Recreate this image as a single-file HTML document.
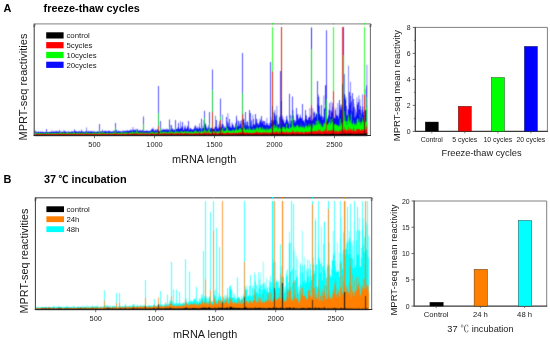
<!DOCTYPE html>
<html lang="en">
<head>
<meta charset="utf-8">
<title>MPRT-seq reactivities</title>
<style>
html,body{margin:0;padding:0;background:#fff;}
body{width:550px;height:345px;overflow:hidden;font-family:"Liberation Sans",Arial,sans-serif;}
svg{display:block;}
</style>
</head>
<body>
<svg width="550" height="345" viewBox="0 0 550 345" font-family="'Liberation Sans', Arial, sans-serif">
<defs><filter id="soft" x="-2%" y="-2%" width="104%" height="104%" color-interpolation-filters="sRGB"><feConvolveMatrix order="3" kernelMatrix="1 4 1 4 16 4 1 4 1" divisor="36" edgeMode="none" preserveAlpha="false"/></filter></defs>
<rect width="550" height="345" fill="#fff"/>
<g id="plotA" filter="url(#soft)">
<path fill="#0a0aff" d="M34.7,136.0V130.1H35.2V131.8H35.7V132.0H36.2V131.8H36.7V132.2H37.2V132.3H37.7V131.7H38.2V131.1H38.7V132.0H39.2V132.3H39.7V132.1H40.2V131.5H40.7V132.0H41.2V132.1H41.7V131.8H42.2V131.5H42.7V132.1H43.2V132.1H43.7V132.3H44.2V132.3H44.7V132.3H45.2V131.9H45.7V132.1H46.2V132.0H46.7V131.9H47.2V132.0H47.7V132.1H48.2V132.3H48.7V132.1H49.2V132.0H49.7V131.5H50.2V131.9H50.7V132.1H51.2V131.7H51.7V130.3H52.2V131.9H52.7V131.8H53.2V130.9H53.7V131.7H54.2V131.7H54.7V131.9H55.2V131.1H55.7V131.6H56.2V131.4H56.7V130.8H57.2V132.1H57.7V131.2H58.2V131.7H58.7V131.3H59.2V129.8H59.7V131.3H60.2V132.2H60.7V131.6H61.2V131.8H61.7V131.7H62.2V131.7H62.7V131.7H63.2V131.9H63.7V130.0H64.2V131.5H64.7V131.4H65.2V131.1H65.7V131.8H66.2V132.2H66.7V132.1H67.2V132.0H67.7V131.4H68.2V131.1H68.7V132.2H69.2V131.8H69.7V132.0H70.2V131.9H70.7V131.9H71.2V131.6H71.7V131.0H72.2V131.4H72.7V131.8H73.2V132.1H73.7V131.5H74.2V129.2H74.7V130.5H75.2V131.3H75.7V131.3H76.2V131.8H76.7V131.3H77.2V131.9H77.7V131.8H78.2V131.6H78.7V130.9H79.2V131.3H79.7V131.5H80.2V131.7H80.7V131.6H81.2V129.4H81.7V131.4H82.2V131.5H82.7V131.6H83.2V131.4H83.7V132.1H84.2V132.1H84.7V131.7H85.2V131.8H85.7V130.9H86.2V127.6H86.7V131.5H87.2V131.8H87.7V131.6H88.2V130.6H88.7V132.0H89.2V131.7H89.7V131.4H90.2V131.0H90.7V131.6H91.2V131.1H91.7V132.0H92.2V131.5H92.7V131.7H93.2V131.7H93.7V130.8H94.2V131.6H94.7V132.0H95.2V131.8H95.7V132.0H96.2V132.0H96.7V131.8H97.2V131.4H97.7V131.1H98.2V131.4H98.7V131.9H99.2V131.5H99.7V131.7H100.2V131.5H100.7V131.2H101.2V131.6H101.7V131.4H102.2V129.6H102.7V131.2H103.2V131.4H103.7V131.5H104.2V131.2H104.7V130.8H105.2V130.7H105.7V131.3H106.2V131.5H106.7V131.6H107.2V131.7H107.7V130.7H108.2V131.0H108.7V130.6H109.2V131.6H109.7V130.9H110.2V131.4H110.7V131.7H111.2V131.7H111.7V131.4H112.2V131.5H112.7V131.8H113.2V131.1H113.7V130.5H114.2V130.8H114.7V131.6H115.2V130.8H115.7V129.4H116.2V129.7H116.7V131.6H117.2V131.6H117.7V131.6H118.2V130.4H118.7V131.3H119.2V131.3H119.7V131.2H120.2V131.3H120.7V131.4H121.2V131.4H121.7V131.8H122.2V131.5H122.7V130.5H123.2V130.7H123.7V131.0H124.2V131.5H124.7V131.3H125.2V130.8H125.7V130.4H126.2V131.0H126.7V131.3H127.2V130.3H127.7V130.4H128.2V130.8H128.7V131.0H129.2V130.6H129.7V131.1H130.2V129.2H130.7V130.4H131.2V130.0H131.7V130.7H132.2V130.2H132.7V126.9H133.2V129.5H133.7V130.6H134.2V129.8H134.7V130.4H135.2V129.3H135.7V130.4H136.2V130.7H136.7V128.7H137.2V129.0H137.7V130.8H138.2V130.7H138.7V130.3H139.2V130.5H139.7V131.1H140.2V129.7H140.7V130.3H141.2V131.2H141.7V130.6H142.2V130.6H142.7V129.7H143.2V131.1H143.7V131.1H144.2V131.1H144.7V130.7H145.2V131.2H145.7V131.0H146.2V130.6H146.7V130.4H147.2V130.5H147.7V131.2H148.2V131.1H148.7V130.9H149.2V131.2H149.7V130.7H150.2V130.4H150.7V130.8H151.2V129.3H151.7V129.4H152.2V129.0H152.7V127.6H153.2V128.7H153.7V130.7H154.2V130.8H154.7V130.6H155.2V129.9H155.7V129.1H156.2V130.9H156.7V129.4H157.2V129.4H157.7V129.2H158.2V131.0H158.7V131.1H159.2V131.1H159.7V131.1H160.2V130.2H160.7V128.4H161.2V130.1H161.7V131.1H162.2V129.8H162.7V128.4H163.2V129.4H163.7V129.9H164.2V129.3H164.7V130.0H165.2V129.6H165.7V129.3H166.2V128.8H166.7V130.6H167.2V128.7H167.7V130.0H168.2V129.8H168.7V129.1H169.2V130.0H169.7V130.4H170.2V129.7H170.7V125.2H171.2V124.9H171.7V129.4H172.2V128.4H172.7V128.7H173.2V130.4H173.7V129.4H174.2V129.4H174.7V129.9H175.2V130.2H175.7V129.7H176.2V129.1H176.7V128.5H177.2V128.9H177.7V127.2H178.2V127.0H178.7V128.2H179.2V129.2H179.7V128.9H180.2V121.2H180.7V128.1H181.2V126.3H181.7V128.4H182.2V126.4H182.7V127.0H183.2V130.1H183.7V129.7H184.2V127.5H184.7V125.0H185.2V126.6H185.7V128.9H186.2V129.2H186.7V127.9H187.2V126.4H187.7V125.8H188.2V129.9H188.7V128.8H189.2V129.9H189.7V127.7H190.2V128.0H190.7V129.3H191.2V128.7H191.7V129.4H192.2V129.4H192.7V130.0H193.2V129.2H193.7V128.4H194.2V126.3H194.7V128.5H195.2V125.4H195.7V125.7H196.2V128.0H196.7V128.4H197.2V127.1H197.7V128.7H198.2V129.0H198.7V126.8H199.2V123.6H199.7V128.1H200.2V127.8H200.7V129.1H201.2V127.9H201.7V129.5H202.2V128.2H202.7V125.8H203.2V127.9H203.7V120.1H204.2V123.6H204.7V122.7H205.2V123.6H205.7V124.9H206.2V127.3H206.7V128.5H207.2V128.9H207.7V127.1H208.2V125.1H208.7V128.0H209.2V128.4H209.7V129.7H210.2V128.0H210.7V128.2H211.2V128.3H211.7V127.6H212.2V126.9H212.7V128.8H213.2V128.9H213.7V128.3H214.2V128.9H214.7V126.8H215.2V115.7H215.7V126.7H216.2V126.5H216.7V129.0H217.2V127.2H217.7V128.8H218.2V128.2H218.7V124.4H219.2V121.0H219.7V126.9H220.2V128.3H220.7V128.5H221.2V126.6H221.7V124.0H222.2V114.7H222.7V124.1H223.2V125.6H223.7V128.9H224.2V127.2H224.7V125.9H225.2V127.7H225.7V127.6H226.2V126.8H226.7V125.9H227.2V121.8H227.7V113.2H228.2V123.3H228.7V126.7H229.2V126.9H229.7V127.0H230.2V125.7H230.7V128.1H231.2V127.5H231.7V122.6H232.2V123.5H232.7V125.1H233.2V125.5H233.7V127.8H234.2V127.4H234.7V127.4H235.2V123.0H235.7V125.6H236.2V121.3H236.7V119.3H237.2V125.3H237.7V127.1H238.2V120.8H238.7V121.0H239.2V126.0H239.7V123.4H240.2V121.0H240.7V124.3H241.2V120.3H241.7V127.6H242.2V124.2H242.7V113.6H243.2V119.4H243.7V118.7H244.2V122.7H244.7V125.2H245.2V124.8H245.7V126.9H246.2V122.1H246.7V124.9H247.2V120.7H247.7V122.0H248.2V126.3H248.7V126.1H249.2V123.6H249.7V123.8H250.2V125.8H250.7V121.7H251.2V120.2H251.7V127.0H252.2V125.5H252.7V114.7H253.2V118.9H253.7V124.0H254.2V124.6H254.7V125.5H255.2V124.5H255.7V122.6H256.2V118.7H256.7V119.2H257.2V122.9H257.7V124.6H258.2V123.4H258.7V125.0H259.2V121.9H259.7V118.6H260.2V119.8H260.7V121.4H261.2V123.8H261.7V123.0H262.2V121.5H262.7V120.4H263.2V121.0H263.7V125.1H264.2V121.2H264.7V121.3H265.2V124.9H265.7V125.6H266.2V122.9H266.7V117.8H267.2V124.4H267.7V123.3H268.2V125.2H268.7V125.9H269.2V123.0H269.7V125.5H270.2V122.8H270.7V116.9H271.2V120.1H271.7V123.5H272.2V124.3H272.7V122.2H273.2V120.2H273.7V111.8H274.2V113.4H274.7V109.8H275.2V116.1H275.7V119.8H276.2V115.1H276.7V105.7H277.2V121.2H277.7V125.2H278.2V124.0H278.7V123.8H279.2V117.4H279.7V116.4H280.2V114.7H280.7V124.4H281.2V119.8H281.7V115.3H282.2V119.3H282.7V116.5H283.2V120.9H283.7V119.3H284.2V123.3H284.7V123.2H285.2V122.3H285.7V119.9H286.2V116.5H286.7V115.6H287.2V119.6H287.7V121.6H288.2V123.8H288.7V121.5H289.2V122.7H289.7V121.6H290.2V114.7H290.7V123.9H291.2V120.4H291.7V115.7H292.2V110.4H292.7V110.0H293.2V115.6H293.7V120.3H294.2V119.7H294.7V123.1H295.2V120.8H295.7V121.2H296.2V120.7H296.7V115.5H297.2V114.7H297.7V113.8H298.2V119.7H298.7V118.3H299.2V118.0H299.7V116.3H300.2V114.4H300.7V117.4H301.2V118.4H301.7V118.2H302.2V121.4H302.7V120.1H303.2V120.9H303.7V120.3H304.2V122.8H304.7V119.6H305.2V116.3H305.7V114.4H306.2V115.5H306.7V119.0H307.2V119.9H307.7V120.2H308.2V117.0H308.7V118.0H309.2V117.1H309.7V107.9H310.2V115.4H310.7V120.0H311.2V118.7H311.7V119.0H312.2V120.2H312.7V108.3H313.2V112.6H313.7V118.2H314.2V111.3H314.7V112.7H315.2V116.9H315.7V114.7H316.2V113.5H316.7V113.8H317.2V115.6H317.7V104.4H318.2V94.8H318.7V97.0H319.2V106.0H319.7V114.1H320.2V116.5H320.7V115.3H321.2V118.0H321.7V116.5H322.2V116.3H322.7V119.9H323.2V117.2H323.7V95.5H324.2V109.1H324.7V107.5H325.2V84.9H325.7V85.4H326.2V108.9H326.7V120.2H327.2V119.1H327.7V117.3H328.2V115.2H328.7V109.8H329.2V103.2H329.7V110.6H330.2V116.9H330.7V101.4H331.2V110.6H331.7V112.6H332.2V103.1H332.7V106.8H333.2V115.0H333.7V108.8H334.2V117.4H334.7V118.4H335.2V110.2H335.7V107.5H336.2V114.6H336.7V115.7H337.2V116.0H337.7V103.0H338.2V118.4H338.7V115.6H339.2V113.4H339.7V107.3H340.2V105.0H340.7V110.0H341.2V104.6H341.7V107.7H342.2V117.1H342.7V114.7H343.2V104.8H343.7V97.4H344.2V74.0H344.7V94.9H345.2V99.6H345.7V97.2H346.2V106.0H346.7V116.1H347.2V114.4H347.7V108.9H348.2V65.8H348.7V110.1H349.2V105.0H349.7V103.2H350.2V81.8H350.7V95.8H351.2V101.3H351.7V111.2H352.2V112.6H352.7V109.5H353.2V107.1H353.7V103.7H354.2V106.9H354.7V117.7H355.2V109.4H355.7V115.8H356.2V112.5H356.7V97.4H357.2V104.7H357.7V102.5H358.2V114.3H358.7V95.3H359.2V109.2H359.7V99.2H360.2V110.8H360.7V118.1H361.2V113.2H361.7V109.8H362.2V94.3H362.7V106.6H363.2V111.4H363.7V114.9H364.2V100.3H364.7V89.0H365.2V110.3H365.7V109.9H366.2V105.3H366.7V64.7H367.2V136.0Z"/>
<path fill="#0a0aff" d="M35.15,136.0V131.0h0.70V136.0ZM46.15,136.0V129.0h0.70V136.0ZM99.15,136.0V124.0h0.70V136.0ZM115.15,136.0V123.0h0.70V136.0ZM143.15,136.0V116.5h0.70V136.0ZM158.15,136.0V86.0h0.70V136.0ZM160.15,136.0V121.0h0.70V136.0ZM169.15,136.0V119.5h0.70V136.0ZM175.15,136.0V120.0h0.70V136.0ZM178.15,136.0V123.0h0.70V136.0ZM182.15,136.0V122.0h0.70V136.0ZM188.15,136.0V121.0h0.70V136.0ZM201.15,136.0V118.7h0.70V136.0ZM204.15,136.0V110.7h0.70V136.0ZM209.15,136.0V112.0h0.70V136.0ZM212.15,136.0V69.5h0.70V136.0ZM216.15,136.0V120.0h0.70V136.0ZM220.15,136.0V98.5h0.70V136.0ZM226.15,136.0V117.0h0.70V136.0ZM229.15,136.0V119.0h0.70V136.0ZM236.15,136.0V115.8h0.70V136.0ZM242.15,136.0V53.1h0.70V136.0ZM245.15,136.0V112.0h0.70V136.0ZM249.15,136.0V110.0h0.70V136.0ZM250.15,136.0V113.0h0.70V136.0ZM255.15,136.0V114.0h0.70V136.0ZM261.15,136.0V116.0h0.70V136.0ZM270.15,136.0V62.0h0.70V136.0ZM280.15,136.0V71.0h0.70V136.0ZM289.15,136.0V93.7h0.70V136.0ZM292.15,136.0V96.4h0.70V136.0ZM296.15,136.0V108.0h0.70V136.0ZM302.15,136.0V104.0h0.70V136.0ZM305.15,136.0V110.0h0.70V136.0ZM311.07,136.0V27.4h0.85V136.0ZM317.15,136.0V81.0h0.70V136.0ZM321.15,136.0V105.0h0.70V136.0ZM326.15,136.0V30.3h0.70V136.0ZM339.15,136.0V100.0h0.70V136.0ZM343.12,136.0V27.0h0.77V136.0ZM344.15,136.0V94.0h0.70V136.0ZM349.15,136.0V92.0h0.70V136.0ZM352.15,136.0V93.0h0.70V136.0ZM353.15,136.0V99.0h0.70V136.0ZM358.15,136.0V102.0h0.70V136.0ZM360.15,136.0V106.0h0.70V136.0ZM366.15,136.0V85.5h0.70V136.0Z"/>
<path fill="#00ff00" d="M34.7,136.0V132.1H35.2V133.0H35.7V133.0H36.2V133.2H36.7V133.3H37.2V133.1H37.7V133.2H38.2V132.8H38.7V133.0H39.2V133.1H39.7V133.0H40.2V132.9H40.7V133.2H41.2V133.3H41.7V133.1H42.2V133.1H42.7V133.3H43.2V133.3H43.7V133.3H44.2V133.4H44.7V133.3H45.2V133.3H45.7V133.2H46.2V133.0H46.7V132.7H47.2V133.3H47.7V133.3H48.2V133.1H48.7V133.1H49.2V133.1H49.7V133.1H50.2V133.2H50.7V133.3H51.2V133.2H51.7V132.8H52.2V133.0H52.7V133.2H53.2V133.0H53.7V133.0H54.2V133.0H54.7V133.1H55.2V133.0H55.7V133.1H56.2V133.2H56.7V132.8H57.2V133.0H57.7V133.0H58.2V133.2H58.7V132.9H59.2V132.0H59.7V132.2H60.2V133.3H60.7V132.6H61.2V133.1H61.7V132.8H62.2V132.7H62.7V132.8H63.2V132.7H63.7V132.8H64.2V132.9H64.7V133.1H65.2V133.3H65.7V132.6H66.2V133.1H66.7V133.0H67.2V133.1H67.7V132.3H68.2V132.2H68.7V132.9H69.2V133.1H69.7V133.1H70.2V133.2H70.7V133.3H71.2V133.1H71.7V132.6H72.2V132.9H72.7V133.1H73.2V133.1H73.7V132.5H74.2V132.1H74.7V132.9H75.2V132.9H75.7V133.1H76.2V133.1H76.7V133.0H77.2V133.2H77.7V133.1H78.2V133.1H78.7V132.6H79.2V132.3H79.7V133.0H80.2V132.8H80.7V133.0H81.2V132.9H81.7V133.0H82.2V132.6H82.7V132.7H83.2V133.0H83.7V133.3H84.2V133.2H84.7V133.2H85.2V133.0H85.7V132.6H86.2V131.8H86.7V132.6H87.2V133.2H87.7V133.0H88.2V133.1H88.7V133.0H89.2V133.1H89.7V132.8H90.2V133.0H90.7V133.1H91.2V133.0H91.7V133.2H92.2V133.2H92.7V133.1H93.2V132.9H93.7V132.2H94.2V132.6H94.7V133.0H95.2V132.8H95.7V133.2H96.2V133.1H96.7V133.2H97.2V133.2H97.7V132.6H98.2V132.5H98.7V133.1H99.2V132.8H99.7V132.9H100.2V132.7H100.7V133.1H101.2V133.0H101.7V132.2H102.2V132.1H102.7V132.5H103.2V132.9H103.7V132.6H104.2V133.0H104.7V132.5H105.2V133.1H105.7V133.1H106.2V132.9H106.7V133.1H107.2V132.8H107.7V132.5H108.2V132.8H108.7V132.6H109.2V132.9H109.7V133.0H110.2V132.9H110.7V132.9H111.2V132.9H111.7V133.0H112.2V132.9H112.7V133.1H113.2V132.6H113.7V130.7H114.2V132.5H114.7V133.0H115.2V132.6H115.7V132.5H116.2V132.9H116.7V133.0H117.2V133.0H117.7V133.0H118.2V132.4H118.7V132.7H119.2V132.8H119.7V133.0H120.2V132.3H120.7V132.7H121.2V132.5H121.7V132.9H122.2V132.5H122.7V132.3H123.2V132.4H123.7V131.9H124.2V132.9H124.7V132.6H125.2V132.4H125.7V132.4H126.2V132.5H126.7V132.5H127.2V132.7H127.7V132.0H128.2V132.5H128.7V132.7H129.2V132.9H129.7V132.8H130.2V132.2H130.7V132.0H131.2V132.8H131.7V131.6H132.2V131.7H132.7V131.8H133.2V132.3H133.7V132.4H134.2V131.8H134.7V132.4H135.2V132.7H135.7V132.0H136.2V129.9H136.7V132.1H137.2V131.0H137.7V132.6H138.2V132.8H138.7V132.0H139.2V132.8H139.7V132.5H140.2V131.8H140.7V132.8H141.2V133.0H141.7V132.5H142.2V132.6H142.7V132.2H143.2V132.8H143.7V132.7H144.2V133.0H144.7V132.6H145.2V132.8H145.7V133.0H146.2V132.4H146.7V132.6H147.2V132.5H147.7V132.4H148.2V132.9H148.7V132.9H149.2V132.5H149.7V132.5H150.2V132.2H150.7V132.3H151.2V132.2H151.7V131.2H152.2V131.7H152.7V131.8H153.2V132.4H153.7V132.5H154.2V132.8H154.7V132.7H155.2V131.4H155.7V132.3H156.2V132.6H156.7V132.4H157.2V131.5H157.7V132.1H158.2V132.8H158.7V132.8H159.2V132.9H159.7V133.0H160.2V132.6H160.7V131.2H161.2V132.3H161.7V132.6H162.2V132.1H162.7V131.4H163.2V132.0H163.7V131.4H164.2V132.1H164.7V132.2H165.2V131.4H165.7V131.6H166.2V132.3H166.7V132.3H167.2V132.2H167.7V132.5H168.2V131.8H168.7V132.3H169.2V132.4H169.7V132.6H170.2V132.1H170.7V130.7H171.2V130.7H171.7V132.2H172.2V131.4H172.7V132.3H173.2V132.5H173.7V131.7H174.2V132.2H174.7V132.2H175.2V132.1H175.7V132.3H176.2V132.0H176.7V131.1H177.2V131.0H177.7V132.3H178.2V131.4H178.7V132.1H179.2V132.5H179.7V132.2H180.2V131.2H180.7V130.5H181.2V131.5H181.7V131.3H182.2V131.5H182.7V132.0H183.2V131.9H183.7V131.4H184.2V131.3H184.7V130.9H185.2V131.2H185.7V132.1H186.2V132.1H186.7V131.3H187.2V131.0H187.7V131.1H188.2V131.2H188.7V132.2H189.2V132.1H189.7V132.0H190.2V131.6H190.7V131.9H191.2V131.0H191.7V132.0H192.2V132.0H192.7V132.3H193.2V132.1H193.7V131.6H194.2V131.2H194.7V130.6H195.2V130.8H195.7V128.7H196.2V131.3H196.7V131.7H197.2V132.0H197.7V131.7H198.2V131.9H198.7V130.8H199.2V130.9H199.7V130.4H200.2V131.9H200.7V132.0H201.2V131.7H201.7V132.1H202.2V131.6H202.7V131.3H203.2V131.6H203.7V130.0H204.2V129.5H204.7V130.9H205.2V130.6H205.7V129.8H206.2V130.9H206.7V131.5H207.2V132.2H207.7V130.0H208.2V128.7H208.7V130.5H209.2V131.3H209.7V132.3H210.2V132.1H210.7V131.8H211.2V131.5H211.7V131.3H212.2V131.4H212.7V131.4H213.2V132.0H213.7V130.9H214.2V131.7H214.7V130.6H215.2V129.0H215.7V130.7H216.2V131.7H216.7V131.9H217.2V131.3H217.7V131.7H218.2V131.4H218.7V130.8H219.2V130.6H219.7V131.4H220.2V131.6H220.7V132.0H221.2V130.5H221.7V129.5H222.2V127.9H222.7V129.1H223.2V130.9H223.7V131.3H224.2V130.4H224.7V130.9H225.2V130.7H225.7V130.2H226.2V130.7H226.7V127.2H227.2V128.2H227.7V128.8H228.2V130.7H228.7V130.2H229.2V129.9H229.7V131.2H230.2V130.6H230.7V131.2H231.2V130.8H231.7V130.9H232.2V130.0H232.7V129.0H233.2V129.7H233.7V130.7H234.2V131.5H234.7V129.4H235.2V130.1H235.7V129.0H236.2V130.1H236.7V128.9H237.2V130.8H237.7V129.9H238.2V129.6H238.7V129.7H239.2V127.9H239.7V128.7H240.2V128.4H240.7V127.8H241.2V130.0H241.7V129.5H242.2V125.7H242.7V124.8H243.2V128.6H243.7V124.8H244.2V127.8H244.7V129.2H245.2V129.9H245.7V130.0H246.2V128.5H246.7V130.0H247.2V129.1H247.7V127.5H248.2V130.3H248.7V128.4H249.2V129.7H249.7V129.8H250.2V129.3H250.7V128.8H251.2V129.5H251.7V130.6H252.2V130.0H252.7V127.5H253.2V128.4H253.7V129.9H254.2V128.6H254.7V129.6H255.2V130.0H255.7V128.3H256.2V128.5H256.7V125.6H257.2V128.1H257.7V127.2H258.2V128.3H258.7V129.9H259.2V127.6H259.7V127.1H260.2V127.2H260.7V127.5H261.2V129.7H261.7V129.4H262.2V126.7H262.7V128.1H263.2V129.9H263.7V128.2H264.2V129.6H264.7V128.2H265.2V129.9H265.7V130.2H266.2V128.9H266.7V126.9H267.2V128.6H267.7V130.4H268.2V129.0H268.7V129.6H269.2V128.8H269.7V128.3H270.2V128.6H270.7V128.7H271.2V125.9H271.7V128.4H272.2V128.7H272.7V129.5H273.2V126.1H273.7V124.2H274.2V124.6H274.7V128.1H275.2V126.1H275.7V128.0H276.2V126.1H276.7V116.0H277.2V126.7H277.7V129.4H278.2V127.8H278.7V128.2H279.2V126.9H279.7V124.4H280.2V128.9H280.7V128.3H281.2V125.4H281.7V125.5H282.2V128.0H282.7V127.0H283.2V127.1H283.7V126.8H284.2V127.0H284.7V129.2H285.2V129.0H285.7V127.6H286.2V123.9H286.7V123.7H287.2V128.1H287.7V128.1H288.2V128.9H288.7V128.2H289.2V128.1H289.7V127.9H290.2V126.9H290.7V128.5H291.2V127.1H291.7V123.9H292.2V118.3H292.7V113.5H293.2V125.5H293.7V128.2H294.2V126.0H294.7V127.2H295.2V126.5H295.7V127.1H296.2V125.8H296.7V124.3H297.2V124.9H297.7V125.3H298.2V126.2H298.7V127.3H299.2V127.5H299.7V126.1H300.2V127.2H300.7V123.2H301.2V126.4H301.7V126.5H302.2V126.8H302.7V127.7H303.2V125.2H303.7V127.3H304.2V128.3H304.7V126.8H305.2V125.8H305.7V122.8H306.2V126.3H306.7V125.8H307.2V127.7H307.7V126.2H308.2V125.6H308.7V123.5H309.2V127.1H309.7V124.5H310.2V124.6H310.7V126.6H311.2V125.6H311.7V125.2H312.2V127.7H312.7V123.7H313.2V123.3H313.7V124.7H314.2V126.0H314.7V123.9H315.2V124.9H315.7V121.3H316.2V120.4H316.7V125.3H317.2V125.1H317.7V123.5H318.2V120.4H318.7V121.0H319.2V123.9H319.7V124.0H320.2V122.6H320.7V124.9H321.2V126.7H321.7V124.6H322.2V127.0H322.7V127.1H323.2V124.6H323.7V122.2H324.2V123.6H324.7V122.9H325.2V105.1H325.7V110.7H326.2V121.8H326.7V125.2H327.2V123.9H327.7V125.0H328.2V123.3H328.7V122.2H329.2V121.9H329.7V117.7H330.2V124.2H330.7V119.5H331.2V123.1H331.7V118.9H332.2V122.0H332.7V117.3H333.2V124.1H333.7V123.5H334.2V124.4H334.7V124.2H335.2V124.3H335.7V123.4H336.2V125.1H336.7V125.3H337.2V125.1H337.7V125.3H338.2V126.2H338.7V126.5H339.2V124.7H339.7V119.4H340.2V118.3H340.7V125.8H341.2V123.1H341.7V122.7H342.2V124.6H342.7V124.8H343.2V121.5H343.7V121.1H344.2V111.3H344.7V116.6H345.2V121.2H345.7V120.5H346.2V121.3H346.7V124.9H347.2V121.3H347.7V116.3H348.2V113.9H348.7V117.6H349.2V120.6H349.7V122.7H350.2V119.9H350.7V114.4H351.2V112.4H351.7V123.5H352.2V124.8H352.7V123.3H353.2V120.5H353.7V122.4H354.2V123.9H354.7V125.4H355.2V124.0H355.7V122.8H356.2V124.4H356.7V119.5H357.2V117.9H357.7V119.1H358.2V122.2H358.7V119.3H359.2V122.0H359.7V113.6H360.2V122.0H360.7V124.9H361.2V122.5H361.7V121.4H362.2V119.3H362.7V116.8H363.2V121.2H363.7V123.3H364.2V121.8H364.7V122.1H365.2V122.0H365.7V121.4H366.2V96.9H366.7V107.6H367.2V136.0Z"/>
<path fill="#00ff00" d="M46.15,136.0V132.5h0.70V136.0ZM99.15,136.0V130.0h0.70V136.0ZM115.15,136.0V128.0h0.70V136.0ZM143.15,136.0V124.0h0.70V136.0ZM158.15,136.0V113.0h0.70V136.0ZM160.15,136.0V128.0h0.70V136.0ZM169.15,136.0V127.0h0.70V136.0ZM175.15,136.0V128.0h0.70V136.0ZM201.15,136.0V127.0h0.70V136.0ZM204.15,136.0V118.0h0.70V136.0ZM209.15,136.0V124.0h0.70V136.0ZM212.15,136.0V89.8h0.70V136.0ZM220.15,136.0V116.0h0.70V136.0ZM226.15,136.0V126.0h0.70V136.0ZM236.15,136.0V125.0h0.70V136.0ZM242.15,136.0V92.7h0.70V136.0ZM249.15,136.0V122.0h0.70V136.0ZM272.07,136.0V27.0h0.85V136.0ZM281.07,136.0V27.0h0.85V136.0ZM289.15,136.0V118.0h0.70V136.0ZM311.07,136.0V49.0h0.85V136.0ZM317.15,136.0V112.0h0.70V136.0ZM326.15,136.0V99.0h0.70V136.0ZM333.07,136.0V27.0h0.85V136.0ZM343.12,136.0V55.0h0.77V136.0ZM364.07,136.0V27.0h0.85V136.0Z"/>
<path fill="#ff0000" d="M34.7,136.0V133.9H35.2V134.0H35.7V134.0H36.2V134.1H36.7V134.1H37.2V134.0H37.7V133.9H38.2V133.8H38.7V134.0H39.2V134.0H39.7V133.9H40.2V133.9H40.7V134.0H41.2V134.0H41.7V133.9H42.2V134.0H42.7V134.0H43.2V134.0H43.7V134.1H44.2V134.1H44.7V134.1H45.2V134.0H45.7V134.0H46.2V133.9H46.7V134.0H47.2V134.0H47.7V134.0H48.2V133.9H48.7V133.9H49.2V133.9H49.7V134.1H50.2V134.0H50.7V134.0H51.2V134.0H51.7V133.9H52.2V133.9H52.7V133.8H53.2V133.9H53.7V134.0H54.2V133.9H54.7V134.0H55.2V134.0H55.7V134.0H56.2V133.9H56.7V133.8H57.2V133.7H57.7V133.8H58.2V133.9H58.7V133.8H59.2V133.6H59.7V133.8H60.2V134.0H60.7V134.0H61.2V133.9H61.7V133.8H62.2V133.8H62.7V133.8H63.2V133.7H63.7V133.6H64.2V133.8H64.7V133.9H65.2V133.8H65.7V134.0H66.2V134.0H66.7V134.1H67.2V133.9H67.7V133.7H68.2V133.5H68.7V134.0H69.2V134.0H69.7V133.9H70.2V134.0H70.7V134.0H71.2V133.9H71.7V133.8H72.2V133.7H72.7V133.9H73.2V134.0H73.7V133.9H74.2V133.8H74.7V133.7H75.2V134.0H75.7V133.7H76.2V133.9H76.7V134.0H77.2V134.1H77.7V133.9H78.2V133.7H78.7V133.8H79.2V133.8H79.7V133.7H80.2V133.8H80.7V133.6H81.2V133.8H81.7V133.8H82.2V133.9H82.7V133.8H83.2V134.0H83.7V134.1H84.2V134.1H84.7V134.0H85.2V133.9H85.7V133.7H86.2V133.3H86.7V133.7H87.2V133.9H87.7V133.9H88.2V133.7H88.7V133.9H89.2V133.9H89.7V133.8H90.2V133.8H90.7V134.0H91.2V133.8H91.7V134.0H92.2V133.9H92.7V133.8H93.2V133.9H93.7V133.8H94.2V133.8H94.7V133.9H95.2V133.9H95.7V134.0H96.2V134.0H96.7V134.0H97.2V133.9H97.7V134.0H98.2V133.7H98.7V133.9H99.2V133.9H99.7V133.8H100.2V133.7H100.7V134.0H101.2V133.9H101.7V133.7H102.2V133.2H102.7V133.4H103.2V133.9H103.7V133.9H104.2V133.9H104.7V133.6H105.2V133.8H105.7V133.8H106.2V134.0H106.7V133.9H107.2V133.9H107.7V133.6H108.2V133.5H108.7V133.5H109.2V133.9H109.7V134.0H110.2V133.9H110.7V133.9H111.2V133.8H111.7V134.0H112.2V133.9H112.7V134.0H113.2V133.7H113.7V133.3H114.2V133.6H114.7V133.9H115.2V133.6H115.7V133.4H116.2V133.6H116.7V134.0H117.2V133.9H117.7V133.9H118.2V133.7H118.7V133.8H119.2V133.9H119.7V133.9H120.2V133.8H120.7V133.8H121.2V134.0H121.7V133.9H122.2V133.8H122.7V133.5H123.2V133.8H123.7V133.8H124.2V133.9H124.7V133.9H125.2V133.8H125.7V133.7H126.2V133.9H126.7V133.8H127.2V133.8H127.7V133.4H128.2V133.1H128.7V133.6H129.2V133.9H129.7V133.9H130.2V133.7H130.7V133.7H131.2V133.6H131.7V133.7H132.2V133.5H132.7V133.5H133.2V133.5H133.7V133.3H134.2V133.5H134.7V133.7H135.2V133.6H135.7V133.3H136.2V133.5H136.7V133.2H137.2V133.4H137.7V133.9H138.2V133.8H138.7V133.2H139.2V133.8H139.7V133.6H140.2V133.5H140.7V133.9H141.2V133.9H141.7V133.7H142.2V133.8H142.7V133.5H143.2V133.9H143.7V133.8H144.2V133.9H144.7V133.8H145.2V133.9H145.7V133.8H146.2V133.6H146.7V133.6H147.2V133.5H147.7V133.9H148.2V133.7H148.7V133.7H149.2V133.7H149.7V133.6H150.2V133.8H150.7V133.6H151.2V133.4H151.7V133.0H152.2V133.3H152.7V133.6H153.2V133.6H153.7V133.9H154.2V133.9H154.7V133.7H155.2V133.6H155.7V133.7H156.2V133.4H156.7V133.7H157.2V133.5H157.7V133.7H158.2V133.8H158.7V133.7H159.2V133.9H159.7V134.0H160.2V133.7H160.7V132.9H161.2V133.6H161.7V133.7H162.2V133.5H162.7V133.3H163.2V133.3H163.7V133.5H164.2V133.3H164.7V133.6H165.2V133.0H165.7V133.4H166.2V133.6H166.7V133.6H167.2V133.5H167.7V133.6H168.2V133.5H168.7V133.7H169.2V133.4H169.7V133.3H170.2V133.4H170.7V132.2H171.2V132.9H171.7V133.4H172.2V133.2H172.7V133.6H173.2V133.8H173.7V133.5H174.2V133.5H174.7V133.6H175.2V133.6H175.7V133.6H176.2V133.2H176.7V133.1H177.2V133.3H177.7V133.2H178.2V132.9H178.7V133.5H179.2V133.7H179.7V133.4H180.2V132.6H180.7V132.4H181.2V133.3H181.7V133.2H182.2V133.4H182.7V133.4H183.2V133.5H183.7V133.5H184.2V133.1H184.7V132.7H185.2V133.3H185.7V133.2H186.2V133.5H186.7V133.4H187.2V132.4H187.7V133.2H188.2V133.2H188.7V133.6H189.2V133.7H189.7V133.4H190.2V133.3H190.7V133.4H191.2V133.5H191.7V133.4H192.2V133.5H192.7V133.8H193.2V133.5H193.7V133.6H194.2V133.1H194.7V133.1H195.2V132.9H195.7V132.7H196.2V133.3H196.7V133.5H197.2V133.4H197.7V133.5H198.2V133.6H198.7V132.5H199.2V132.1H199.7V132.8H200.2V133.5H200.7V133.5H201.2V133.4H201.7V133.5H202.2V133.3H202.7V132.8H203.2V133.3H203.7V132.9H204.2V131.6H204.7V133.0H205.2V132.8H205.7V131.3H206.2V132.7H206.7V133.4H207.2V133.6H207.7V132.4H208.2V132.3H208.7V132.5H209.2V133.4H209.7V133.6H210.2V133.5H210.7V133.1H211.2V133.2H211.7V133.2H212.2V133.3H212.7V133.5H213.2V133.3H213.7V133.4H214.2V133.0H214.7V132.3H215.2V130.0H215.7V132.3H216.2V133.3H216.7V133.5H217.2V133.6H217.7V133.6H218.2V133.4H218.7V132.5H219.2V132.6H219.7V133.1H220.2V133.4H220.7V133.3H221.2V133.0H221.7V132.7H222.2V131.6H222.7V132.9H223.2V133.1H223.7V133.2H224.2V133.1H224.7V133.4H225.2V133.3H225.7V133.2H226.2V133.1H226.7V132.5H227.2V132.0H227.7V132.5H228.2V132.7H228.7V132.8H229.2V133.1H229.7V133.2H230.2V133.3H230.7V133.3H231.2V133.3H231.7V132.7H232.2V132.9H232.7V133.0H233.2V132.3H233.7V133.3H234.2V133.1H234.7V132.8H235.2V133.1H235.7V133.0H236.2V132.6H236.7V132.9H237.2V133.3H237.7V132.9H238.2V132.6H238.7V132.6H239.2V133.0H239.7V132.0H240.2V132.3H240.7V132.0H241.2V132.6H241.7V133.0H242.2V132.4H242.7V131.2H243.2V131.6H243.7V131.7H244.2V132.7H244.7V133.0H245.2V133.1H245.7V132.2H246.2V132.5H246.7V132.6H247.2V132.1H247.7V133.0H248.2V133.0H248.7V133.1H249.2V132.6H249.7V132.8H250.2V133.0H250.7V133.0H251.2V132.9H251.7V133.1H252.2V133.1H252.7V132.9H253.2V132.4H253.7V132.7H254.2V132.4H254.7V132.8H255.2V132.7H255.7V131.9H256.2V131.9H256.7V130.8H257.2V132.1H257.7V132.5H258.2V132.6H258.7V132.7H259.2V132.3H259.7V132.3H260.2V132.5H260.7V132.9H261.2V132.9H261.7V132.9H262.2V132.3H262.7V132.0H263.2V132.8H263.7V132.6H264.2V132.6H264.7V132.3H265.2V132.5H265.7V132.7H266.2V132.6H266.7V131.5H267.2V132.6H267.7V132.9H268.2V132.7H268.7V132.8H269.2V132.5H269.7V132.8H270.2V132.7H270.7V132.3H271.2V132.7H271.7V132.5H272.2V132.6H272.7V132.9H273.2V132.2H273.7V131.8H274.2V132.1H274.7V132.4H275.2V132.2H275.7V132.3H276.2V131.3H276.7V130.7H277.2V132.1H277.7V132.8H278.2V132.7H278.7V132.6H279.2V131.3H279.7V131.5H280.2V132.4H280.7V132.7H281.2V132.0H281.7V130.9H282.2V132.0H282.7V132.1H283.2V131.9H283.7V131.7H284.2V131.9H284.7V132.5H285.2V132.9H285.7V131.8H286.2V131.0H286.7V131.8H287.2V132.2H287.7V132.7H288.2V132.4H288.7V132.3H289.2V132.4H289.7V131.9H290.2V132.3H290.7V132.0H291.2V132.4H291.7V132.3H292.2V130.4H292.7V130.2H293.2V131.7H293.7V132.6H294.2V132.1H294.7V131.9H295.2V132.6H295.7V131.9H296.2V132.3H296.7V130.6H297.2V131.7H297.7V131.9H298.2V131.7H298.7V132.2H299.2V132.4H299.7V132.0H300.2V132.2H300.7V132.2H301.2V131.2H301.7V132.3H302.2V132.2H302.7V132.2H303.2V132.4H303.7V132.4H304.2V132.4H304.7V132.0H305.2V131.6H305.7V131.5H306.2V132.1H306.7V131.9H307.2V132.0H307.7V132.2H308.2V131.8H308.7V132.0H309.2V131.7H309.7V131.4H310.2V131.5H310.7V132.0H311.2V131.6H311.7V131.7H312.2V131.6H312.7V131.4H313.2V131.5H313.7V130.8H314.2V131.0H314.7V131.8H315.2V131.1H315.7V131.1H316.2V131.1H316.7V131.3H317.2V131.9H317.7V131.1H318.2V130.1H318.7V129.1H319.2V130.4H319.7V131.6H320.2V129.9H320.7V131.4H321.2V131.8H321.7V131.1H322.2V131.8H322.7V131.5H323.2V131.2H323.7V130.8H324.2V130.3H324.7V130.7H325.2V128.9H325.7V130.8H326.2V130.2H326.7V131.2H327.2V131.6H327.7V131.2H328.2V130.0H328.7V130.7H329.2V130.2H329.7V130.7H330.2V131.2H330.7V130.6H331.2V130.1H331.7V130.7H332.2V129.6H332.7V130.5H333.2V131.2H333.7V130.7H334.2V131.6H334.7V131.8H335.2V131.1H335.7V129.8H336.2V131.3H336.7V131.4H337.2V131.2H337.7V131.2H338.2V131.8H338.7V131.8H339.2V130.9H339.7V129.5H340.2V130.6H340.7V131.3H341.2V130.2H341.7V129.8H342.2V131.2H342.7V131.1H343.2V129.9H343.7V129.2H344.2V127.1H344.7V129.7H345.2V129.9H345.7V130.2H346.2V130.5H346.7V130.6H347.2V130.4H347.7V129.2H348.2V127.1H348.7V130.4H349.2V130.6H349.7V129.7H350.2V128.8H350.7V128.7H351.2V129.8H351.7V130.9H352.2V130.7H352.7V130.2H353.2V127.6H353.7V128.9H354.2V131.1H354.7V130.7H355.2V130.7H355.7V131.2H356.2V129.6H356.7V129.1H357.2V128.9H357.7V129.5H358.2V129.0H358.7V129.2H359.2V128.9H359.7V129.9H360.2V130.9H360.7V130.3H361.2V129.6H361.7V130.1H362.2V129.5H362.7V129.8H363.2V130.8H363.7V129.6H364.2V129.7H364.7V129.1H365.2V130.1H365.7V129.5H366.2V126.9H366.7V124.4H367.2V136.0Z"/>
<path fill="#ff0000" d="M143.15,136.0V131.0h0.70V136.0ZM158.15,136.0V126.0h0.70V136.0ZM212.15,136.0V112.0h0.70V136.0ZM220.15,136.0V120.0h0.70V136.0ZM242.15,136.0V114.5h0.70V136.0ZM272.07,136.0V71.6h0.85V136.0ZM281.07,136.0V27.0h0.85V136.0ZM311.07,136.0V105.0h0.85V136.0ZM326.15,136.0V122.0h0.70V136.0ZM333.07,136.0V91.3h0.85V136.0ZM342.12,136.0V27.0h0.77V136.0ZM364.07,136.0V95.0h0.85V136.0Z"/>
<path fill="#000000" d="M34.7,136.0V134.9H35.2V134.9H35.7V134.9H36.2V135.0H36.7V135.0H37.2V134.9H37.7V134.9H38.2V134.8H38.7V134.9H39.2V134.9H39.7V134.9H40.2V134.9H40.7V134.9H41.2V135.0H41.7V134.9H42.2V134.8H42.7V134.9H43.2V135.0H43.7V135.0H44.2V135.0H44.7V135.0H45.2V135.0H45.7V135.0H46.2V134.9H46.7V134.9H47.2V135.0H47.7V135.0H48.2V135.0H48.7V134.9H49.2V134.9H49.7V135.0H50.2V135.0H50.7V135.0H51.2V134.9H51.7V134.9H52.2V134.9H52.7V134.9H53.2V134.9H53.7V135.0H54.2V134.9H54.7V135.0H55.2V134.9H55.7V134.9H56.2V134.9H56.7V134.9H57.2V134.9H57.7V134.9H58.2V134.9H58.7V134.9H59.2V134.8H59.7V134.8H60.2V135.0H60.7V134.9H61.2V134.9H61.7V134.9H62.2V134.9H62.7V134.9H63.2V134.9H63.7V134.9H64.2V134.9H64.7V134.9H65.2V135.0H65.7V134.9H66.2V135.0H66.7V135.0H67.2V134.9H67.7V134.8H68.2V134.9H68.7V134.9H69.2V134.9H69.7V134.9H70.2V135.0H70.7V135.0H71.2V134.9H71.7V134.8H72.2V134.9H72.7V135.0H73.2V135.0H73.7V134.9H74.2V134.8H74.7V134.9H75.2V134.9H75.7V134.9H76.2V134.9H76.7V135.0H77.2V135.0H77.7V135.0H78.2V134.9H78.7V134.9H79.2V134.9H79.7V134.9H80.2V134.9H80.7V134.9H81.2V134.9H81.7V134.9H82.2V134.9H82.7V135.0H83.2V135.0H83.7V135.0H84.2V135.0H84.7V135.0H85.2V135.0H85.7V134.9H86.2V134.7H86.7V134.9H87.2V135.0H87.7V134.9H88.2V134.9H88.7V134.9H89.2V134.9H89.7V134.8H90.2V134.9H90.7V134.9H91.2V135.0H91.7V134.9H92.2V135.0H92.7V134.9H93.2V134.9H93.7V134.9H94.2V134.9H94.7V134.9H95.2V134.9H95.7V135.0H96.2V135.0H96.7V135.0H97.2V134.9H97.7V134.9H98.2V134.9H98.7V134.9H99.2V134.9H99.7V134.9H100.2V134.9H100.7V134.9H101.2V134.9H101.7V134.9H102.2V134.8H102.7V134.9H103.2V134.9H103.7V135.0H104.2V134.9H104.7V134.8H105.2V134.9H105.7V134.9H106.2V135.0H106.7V134.9H107.2V134.9H107.7V134.9H108.2V134.8H108.7V134.8H109.2V134.9H109.7V135.0H110.2V135.0H110.7V135.0H111.2V134.9H111.7V134.9H112.2V134.9H112.7V135.0H113.2V134.9H113.7V134.8H114.2V134.9H114.7V135.0H115.2V134.7H115.7V134.7H116.2V134.9H116.7V134.9H117.2V135.0H117.7V135.0H118.2V134.9H118.7V134.9H119.2V134.9H119.7V134.9H120.2V134.9H120.7V134.9H121.2V134.9H121.7V134.9H122.2V134.9H122.7V134.7H123.2V134.9H123.7V134.8H124.2V134.9H124.7V134.9H125.2V134.9H125.7V134.9H126.2V134.9H126.7V134.9H127.2V134.8H127.7V134.7H128.2V134.8H128.7V134.9H129.2V134.9H129.7V134.9H130.2V134.8H130.7V134.8H131.2V134.9H131.7V134.8H132.2V134.8H132.7V134.8H133.2V134.7H133.7V134.8H134.2V134.7H134.7V134.8H135.2V134.8H135.7V134.8H136.2V134.7H136.7V134.7H137.2V134.7H137.7V134.9H138.2V134.9H138.7V134.9H139.2V134.9H139.7V134.9H140.2V134.8H140.7V134.9H141.2V134.9H141.7V134.8H142.2V134.8H142.7V134.9H143.2V134.9H143.7V134.9H144.2V134.9H144.7V134.9H145.2V134.9H145.7V134.9H146.2V134.8H146.7V134.8H147.2V134.8H147.7V134.9H148.2V134.9H148.7V134.9H149.2V134.9H149.7V134.9H150.2V134.8H150.7V134.9H151.2V134.8H151.7V134.5H152.2V134.8H152.7V134.7H153.2V134.9H153.7V134.8H154.2V134.9H154.7V134.8H155.2V134.8H155.7V134.8H156.2V134.9H156.7V134.8H157.2V134.8H157.7V134.8H158.2V134.9H158.7V134.9H159.2V134.9H159.7V134.9H160.2V134.9H160.7V134.6H161.2V134.8H161.7V134.9H162.2V134.9H162.7V134.8H163.2V134.8H163.7V134.8H164.2V134.8H164.7V134.8H165.2V134.8H165.7V134.7H166.2V134.8H166.7V134.8H167.2V134.8H167.7V134.8H168.2V134.8H168.7V134.8H169.2V134.8H169.7V134.8H170.2V134.8H170.7V134.5H171.2V134.6H171.7V134.7H172.2V134.8H172.7V134.7H173.2V134.9H173.7V134.8H174.2V134.8H174.7V134.8H175.2V134.9H175.7V134.9H176.2V134.7H176.7V134.7H177.2V134.8H177.7V134.8H178.2V134.7H178.7V134.8H179.2V134.9H179.7V134.8H180.2V134.7H180.7V134.6H181.2V134.7H181.7V134.7H182.2V134.8H182.7V134.8H183.2V134.9H183.7V134.8H184.2V134.7H184.7V134.6H185.2V134.6H185.7V134.8H186.2V134.8H186.7V134.8H187.2V134.6H187.7V134.6H188.2V134.7H188.7V134.9H189.2V134.8H189.7V134.8H190.2V134.7H190.7V134.8H191.2V134.8H191.7V134.8H192.2V134.7H192.7V134.9H193.2V134.9H193.7V134.8H194.2V134.7H194.7V134.8H195.2V134.8H195.7V134.7H196.2V134.7H196.7V134.8H197.2V134.8H197.7V134.8H198.2V134.8H198.7V134.8H199.2V134.5H199.7V134.7H200.2V134.8H200.7V134.8H201.2V134.8H201.7V134.8H202.2V134.8H202.7V134.7H203.2V134.6H203.7V134.7H204.2V134.6H204.7V134.6H205.2V134.6H205.7V134.4H206.2V134.7H206.7V134.8H207.2V134.9H207.7V134.8H208.2V134.6H208.7V134.6H209.2V134.8H209.7V134.8H210.2V134.8H210.7V134.7H211.2V134.8H211.7V134.7H212.2V134.8H212.7V134.8H213.2V134.7H213.7V134.8H214.2V134.8H214.7V134.6H215.2V134.5H215.7V134.6H216.2V134.7H216.7V134.9H217.2V134.7H217.7V134.8H218.2V134.8H218.7V134.6H219.2V134.6H219.7V134.7H220.2V134.8H220.7V134.8H221.2V134.7H221.7V134.5H222.2V134.2H222.7V134.5H223.2V134.8H223.7V134.8H224.2V134.7H224.7V134.7H225.2V134.8H225.7V134.7H226.2V134.7H226.7V134.4H227.2V134.5H227.7V134.6H228.2V134.6H228.7V134.7H229.2V134.6H229.7V134.7H230.2V134.7H230.7V134.8H231.2V134.7H231.7V134.6H232.2V134.5H232.7V134.7H233.2V134.5H233.7V134.7H234.2V134.7H234.7V134.7H235.2V134.5H235.7V134.6H236.2V134.3H236.7V134.5H237.2V134.7H237.7V134.6H238.2V134.5H238.7V134.5H239.2V134.6H239.7V134.4H240.2V134.4H240.7V134.2H241.2V134.5H241.7V134.7H242.2V134.5H242.7V133.9H243.2V134.3H243.7V134.4H244.2V134.6H244.7V134.6H245.2V134.7H245.7V134.5H246.2V134.5H246.7V134.4H247.2V134.4H247.7V134.2H248.2V134.6H248.7V134.6H249.2V134.6H249.7V134.7H250.2V134.6H250.7V134.6H251.2V134.5H251.7V134.7H252.2V134.6H252.7V134.5H253.2V134.4H253.7V134.6H254.2V134.6H254.7V134.6H255.2V134.5H255.7V134.4H256.2V134.5H256.7V134.2H257.2V134.4H257.7V134.4H258.2V134.5H258.7V134.5H259.2V134.4H259.7V134.5H260.2V134.5H260.7V134.4H261.2V134.5H261.7V134.5H262.2V134.4H262.7V134.3H263.2V134.5H263.7V134.5H264.2V134.5H264.7V134.3H265.2V134.5H265.7V134.6H266.2V134.5H266.7V134.3H267.2V134.5H267.7V134.5H268.2V134.5H268.7V134.5H269.2V134.4H269.7V134.5H270.2V134.4H270.7V134.3H271.2V134.3H271.7V134.4H272.2V134.5H272.7V134.5H273.2V134.4H273.7V134.2H274.2V134.3H274.7V134.4H275.2V134.3H275.7V134.4H276.2V134.1H276.7V133.8H277.2V134.3H277.7V134.5H278.2V134.5H278.7V134.4H279.2V134.2H279.7V134.2H280.2V134.4H280.7V134.5H281.2V134.4H281.7V134.2H282.2V134.3H282.7V134.3H283.2V134.2H283.7V134.2H284.2V134.3H284.7V134.4H285.2V134.5H285.7V134.4H286.2V134.1H286.7V134.1H287.2V134.4H287.7V134.5H288.2V134.5H288.7V134.4H289.2V134.2H289.7V134.4H290.2V134.4H290.7V134.4H291.2V134.4H291.7V134.2H292.2V133.9H292.7V133.4H293.2V134.1H293.7V134.4H294.2V134.4H294.7V134.5H295.2V134.4H295.7V134.4H296.2V134.3H296.7V134.2H297.2V134.1H297.7V134.2H298.2V134.3H298.7V134.4H299.2V134.4H299.7V134.3H300.2V134.3H300.7V134.3H301.2V134.3H301.7V134.3H302.2V134.3H302.7V134.4H303.2V134.4H303.7V134.4H304.2V134.4H304.7V134.3H305.2V134.2H305.7V134.1H306.2V134.2H306.7V134.4H307.2V134.3H307.7V134.3H308.2V134.3H308.7V134.2H309.2V134.3H309.7V134.1H310.2V134.1H310.7V134.2H311.2V134.1H311.7V134.1H312.2V134.2H312.7V134.1H313.2V133.9H313.7V134.1H314.2V134.1H314.7V134.3H315.2V134.2H315.7V134.1H316.2V134.0H316.7V134.1H317.2V134.3H317.7V134.0H318.2V133.7H318.7V133.8H319.2V134.1H319.7V134.1H320.2V134.0H320.7V134.2H321.2V134.3H321.7V134.2H322.2V134.2H322.7V134.3H323.2V134.1H323.7V134.0H324.2V134.1H324.7V134.0H325.2V133.4H325.7V133.8H326.2V133.9H326.7V134.1H327.2V134.2H327.7V134.1H328.2V134.1H328.7V134.1H329.2V134.0H329.7V133.7H330.2V134.0H330.7V134.1H331.2V133.7H331.7V133.8H332.2V133.5H332.7V133.8H333.2V134.1H333.7V133.9H334.2V134.2H334.7V134.2H335.2V134.1H335.7V133.9H336.2V134.0H336.7V134.2H337.2V134.1H337.7V134.0H338.2V134.2H338.7V134.2H339.2V133.9H339.7V133.6H340.2V133.8H340.7V134.1H341.2V134.0H341.7V133.8H342.2V134.1H342.7V133.9H343.2V133.9H343.7V133.5H344.2V133.4H344.7V133.2H345.2V133.8H345.7V133.7H346.2V133.8H346.7V134.0H347.2V134.0H347.7V133.5H348.2V133.3H348.7V133.5H349.2V133.8H349.7V133.7H350.2V133.6H350.7V133.6H351.2V133.6H351.7V133.7H352.2V133.9H352.7V133.8H353.2V133.6H353.7V133.8H354.2V134.0H354.7V134.1H355.2V133.8H355.7V134.0H356.2V134.0H356.7V133.6H357.2V133.3H357.7V133.8H358.2V133.8H358.7V133.6H359.2V133.7H359.7V133.6H360.2V133.8H360.7V133.8H361.2V133.9H361.7V133.8H362.2V133.6H362.7V133.7H363.2V133.9H363.7V133.8H364.2V133.6H364.7V133.6H365.2V133.8H365.7V133.7H366.2V133.0H366.7V132.6H367.2V136.0Z"/>
<path fill="#000000" d="M158.29,136.0V131.0h0.42V136.0ZM212.29,136.0V129.0h0.42V136.0ZM220.29,136.0V128.0h0.42V136.0ZM242.29,136.0V128.0h0.42V136.0ZM272.25,136.0V106.0h0.51V136.0ZM281.25,136.0V101.0h0.51V136.0ZM311.25,136.0V121.0h0.51V136.0ZM333.25,136.0V118.0h0.51V136.0ZM342.27,136.0V84.0h0.46V136.0ZM364.25,136.0V122.0h0.51V136.0Z"/>
</g>
<line x1="33.70" y1="23.85" x2="370.90" y2="23.85" stroke="#9a9a9a" stroke-width="1.4"/><line x1="370.40" y1="23.85" x2="370.40" y2="136.00" stroke="#6a6a6a" stroke-width="1"/><line x1="34.20" y1="23.85" x2="34.20" y2="136.00" stroke="#3a3a3a" stroke-width="1"/><line x1="33.70" y1="135.50" x2="370.90" y2="135.50" stroke="#2a2a2a" stroke-width="1"/><path d="M33.2,25.5l2.4,-1.1M33.2,26.9l2.4,-1.1" stroke="#444" stroke-width="0.6" fill="none"/><path d="M369.4,25.5l2.4,-1.1M369.4,26.9l2.4,-1.1" stroke="#444" stroke-width="0.6" fill="none"/>
<path fill="#00ff00" d="M272.07,23.10v1.5h0.85v-1.5Z"/><path fill="#00ff00" d="M281.07,23.10v1.5h0.85v-1.5Z"/><path fill="#00ff00" d="M333.07,23.10v1.5h0.85v-1.5Z"/><path fill="#00ff00" d="M364.07,23.10v1.5h0.85v-1.5Z"/>
<g stroke="#4a4a4a" stroke-width="0.8"><line x1="94.5" y1="136.0" x2="94.5" y2="138.2"/><line x1="154.5" y1="136.0" x2="154.5" y2="138.2"/><line x1="214.5" y1="136.0" x2="214.5" y2="138.2"/><line x1="274.5" y1="136.0" x2="274.5" y2="138.2"/><line x1="334.5" y1="136.0" x2="334.5" y2="138.2"/></g><g font-size="7.4" text-anchor="middle" fill="#1a1a1a"><text x="94.5" y="146.6">500</text><text x="154.5" y="146.6">1000</text><text x="214.5" y="146.6">1500</text><text x="274.5" y="146.6">2000</text><text x="334.5" y="146.6">2500</text></g>
<rect x="46.2" y="32.3" width="17.4" height="6.2" fill="#000"/><text x="66.4" y="38.2" font-size="7.8" fill="#1a1a1a">control</text><rect x="46.2" y="42.1" width="17.4" height="6.2" fill="#ff0000"/><text x="66.4" y="48.0" font-size="7.8" fill="#1a1a1a">5cycles</text><rect x="46.2" y="51.9" width="17.4" height="6.2" fill="#00ff00"/><text x="66.4" y="57.8" font-size="7.8" fill="#1a1a1a">10cycles</text><rect x="46.2" y="61.7" width="17.4" height="6.2" fill="#0a0aff"/><text x="66.4" y="67.6" font-size="7.8" fill="#1a1a1a">20cycles</text>
<text x="3.6" y="12.4" font-size="10.9" font-weight="bold" fill="#000">A</text>
<text x="43.6" y="12.2" font-size="10.9" font-weight="bold" fill="#000">freeze-thaw cycles</text>
<text transform="translate(27.2,87) rotate(-90)" text-anchor="middle" font-size="11" fill="#1a1a1a">MPRT-seq reactivities</text>
<text x="172" y="163.2" font-size="10.2" textLength="64.3" lengthAdjust="spacingAndGlyphs" fill="#1a1a1a">mRNA length</text>
<g id="plotB" filter="url(#soft)">
<path fill="#00ffff" d="M35.9,310.0V306.9H36.4V306.9H36.9V306.9H37.4V307.3H37.9V307.3H38.4V307.5H38.9V307.4H39.4V307.4H39.9V307.3H40.4V307.3H40.9V306.9H41.4V307.3H41.9V306.9H42.4V306.9H42.9V307.2H43.4V307.2H43.9V307.3H44.4V307.1H44.9V306.9H45.4V306.5H45.9V306.9H46.4V307.2H46.9V307.0H47.4V307.4H47.9V307.2H48.4V307.0H48.9V306.4H49.4V307.0H49.9V307.1H50.4V307.3H50.9V307.4H51.4V307.3H51.9V307.0H52.4V307.0H52.9V306.6H53.4V306.1H53.9V306.5H54.4V306.9H54.9V307.3H55.4V307.4H55.9V307.3H56.4V307.1H56.9V307.1H57.4V307.2H57.9V307.1H58.4V306.0H58.9V305.9H59.4V306.7H59.9V307.0H60.4V307.1H60.9V307.0H61.4V306.7H61.9V307.0H62.4V307.2H62.9V307.2H63.4V306.5H63.9V307.2H64.4V307.1H64.9V306.9H65.4V307.2H65.9V306.7H66.4V306.1H66.9V306.5H67.4V306.9H67.9V306.8H68.4V307.0H68.9V306.8H69.4V307.0H69.9V307.0H70.4V307.2H70.9V306.9H71.4V307.0H71.9V306.6H72.4V307.4H72.9V307.2H73.4V306.3H73.9V305.8H74.4V307.1H74.9V307.2H75.4V307.1H75.9V307.4H76.4V306.9H76.9V307.0H77.4V306.6H77.9V306.2H78.4V307.3H78.9V307.0H79.4V307.2H79.9V307.1H80.4V306.4H80.9V306.7H81.4V306.6H81.9V307.3H82.4V306.7H82.9V305.3H83.4V306.9H83.9V307.1H84.4V307.1H84.9V307.1H85.4V305.9H85.9V306.8H86.4V306.7H86.9V305.4H87.4V307.0H87.9V307.0H88.4V305.9H88.9V306.8H89.4V307.2H89.9V307.2H90.4V306.7H90.9V305.8H91.4V307.0H91.9V306.5H92.4V305.6H92.9V306.3H93.4V306.7H93.9V306.6H94.4V306.8H94.9V307.1H95.4V305.9H95.9V305.8H96.4V307.0H96.9V306.3H97.4V305.3H97.9V307.0H98.4V307.1H98.9V307.1H99.4V306.7H99.9V307.1H100.4V306.7H100.9V306.8H101.4V306.6H101.9V306.8H102.4V307.1H102.9V306.3H103.4V306.7H103.9V305.2H104.4V306.2H104.9V306.4H105.4V305.5H105.9V306.2H106.4V305.2H106.9V306.6H107.4V304.7H107.9V305.9H108.4V306.5H108.9V306.6H109.4V306.1H109.9V305.4H110.4V307.0H110.9V306.9H111.4V307.0H111.9V305.9H112.4V306.3H112.9V306.0H113.4V306.6H113.9V305.8H114.4V306.0H114.9V306.5H115.4V306.3H115.9V306.9H116.4V306.7H116.9V306.7H117.4V306.9H117.9V306.5H118.4V306.8H118.9V306.7H119.4V306.4H119.9V306.3H120.4V306.4H120.9V306.3H121.4V306.3H121.9V305.7H122.4V306.3H122.9V306.7H123.4V306.6H123.9V305.2H124.4V306.7H124.9V305.6H125.4V303.5H125.9V305.8H126.4V306.6H126.9V306.6H127.4V306.1H127.9V306.0H128.4V306.7H128.9V305.7H129.4V305.8H129.9V305.8H130.4V305.9H130.9V306.3H131.4V306.4H131.9V306.2H132.4V304.6H132.9V303.9H133.4V305.3H133.9V304.0H134.4V306.4H134.9V306.0H135.4V306.2H135.9V305.9H136.4V306.1H136.9V304.6H137.4V305.6H137.9V305.5H138.4V306.5H138.9V306.3H139.4V306.3H139.9V305.0H140.4V305.8H140.9V305.7H141.4V305.7H141.9V306.2H142.4V305.6H142.9V305.6H143.4V306.1H143.9V306.2H144.4V304.7H144.9V305.6H145.4V305.9H145.9V306.5H146.4V306.3H146.9V306.3H147.4V306.1H147.9V305.5H148.4V305.6H148.9V305.4H149.4V305.4H149.9V305.3H150.4V306.0H150.9V305.8H151.4V305.6H151.9V306.4H152.4V306.2H152.9V304.7H153.4V305.0H153.9V304.9H154.4V304.9H154.9V305.5H155.4V305.3H155.9V306.1H156.4V305.8H156.9V305.9H157.4V305.0H157.9V305.6H158.4V305.6H158.9V304.5H159.4V304.8H159.9V305.7H160.4V303.7H160.9V304.0H161.4V304.9H161.9V304.2H162.4V305.6H162.9V305.5H163.4V305.4H163.9V304.8H164.4V304.5H164.9V304.6H165.4V302.9H165.9V304.3H166.4V304.8H166.9V304.2H167.4V301.8H167.9V304.2H168.4V304.4H168.9V304.2H169.4V301.8H169.9V299.6H170.4V301.0H170.9V302.7H171.4V304.3H171.9V303.3H172.4V301.1H172.9V303.3H173.4V304.0H173.9V304.4H174.4V302.9H174.9V303.0H175.4V303.9H175.9V304.1H176.4V303.1H176.9V303.1H177.4V304.2H177.9V303.8H178.4V303.0H178.9V302.3H179.4V303.7H179.9V303.9H180.4V303.4H180.9V303.6H181.4V303.5H181.9V303.8H182.4V303.4H182.9V303.5H183.4V302.2H183.9V303.3H184.4V303.4H184.9V300.7H185.4V299.5H185.9V298.3H186.4V302.0H186.9V302.7H187.4V303.6H187.9V301.5H188.4V302.3H188.9V301.6H189.4V301.8H189.9V302.5H190.4V299.8H190.9V301.1H191.4V300.7H191.9V301.0H192.4V301.6H192.9V301.9H193.4V299.2H193.9V299.7H194.4V298.6H194.9V297.8H195.4V299.5H195.9V302.5H196.4V302.2H196.9V301.3H197.4V301.5H197.9V300.6H198.4V302.8H198.9V302.0H199.4V297.8H199.9V299.3H200.4V301.2H200.9V298.1H201.4V294.1H201.9V297.5H202.4V294.7H202.9V300.7H203.4V300.3H203.9V297.8H204.4V295.8H204.9V300.2H205.4V297.6H205.9V298.9H206.4V296.5H206.9V297.3H207.4V301.2H207.9V301.5H208.4V298.6H208.9V297.5H209.4V296.1H209.9V295.9H210.4V299.5H210.9V301.4H211.4V300.5H211.9V301.7H212.4V302.2H212.9V302.5H213.4V301.1H213.9V290.8H214.4V295.1H214.9V289.4H215.4V296.4H215.9V299.4H216.4V300.7H216.9V301.7H217.4V300.1H217.9V293.4H218.4V297.3H218.9V298.7H219.4V296.4H219.9V295.8H220.4V296.4H220.9V298.6H221.4V299.8H221.9V301.4H222.4V297.6H222.9V296.7H223.4V300.8H223.9V294.8H224.4V298.9H224.9V299.7H225.4V295.6H225.9V300.3H226.4V297.0H226.9V297.0H227.4V297.4H227.9V297.1H228.4V299.2H228.9V297.5H229.4V293.0H229.9V284.9H230.4V285.7H230.9V289.6H231.4V289.3H231.9V298.1H232.4V297.3H232.9V292.6H233.4V297.4H233.9V298.5H234.4V294.2H234.9V296.5H235.4V300.3H235.9V298.8H236.4V298.8H236.9V297.6H237.4V298.5H237.9V296.9H238.4V297.2H238.9V297.4H239.4V298.1H239.9V300.4H240.4V299.3H240.9V299.3H241.4V296.1H241.9V299.5H242.4V297.9H242.9V293.9H243.4V296.6H243.9V295.3H244.4V298.4H244.9V288.9H245.4V285.7H245.9V290.0H246.4V288.6H246.9V285.6H247.4V297.1H247.9V296.1H248.4V295.0H248.9V295.7H249.4V285.9H249.9V285.7H250.4V295.4H250.9V296.8H251.4V296.0H251.9V285.6H252.4V288.5H252.9V285.8H253.4V294.9H253.9V289.5H254.4V272.2H254.9V274.5H255.4V281.4H255.9V292.2H256.4V285.1H256.9V285.8H257.4V292.3H257.9V294.1H258.4V272.2H258.9V288.6H259.4V279.3H259.9V272.2H260.4V285.6H260.9V284.2H261.4V294.2H261.9V290.0H262.4V284.6H262.9V261.7H263.4V283.3H263.9V289.0H264.4V282.3H264.9V285.5H265.4V289.0H265.9V278.1H266.4V291.1H266.9V286.7H267.4V288.2H267.9V292.7H268.4V292.0H268.9V279.8H269.4V287.1H269.9V282.6H270.4V275.7H270.9V282.1H271.4V289.2H271.9V286.8H272.4V261.6H272.9V259.0H273.4V263.1H273.9V283.2H274.4V283.4H274.9V290.0H275.4V261.7H275.9V279.6H276.4V282.0H276.9V281.7H277.4V281.5H277.9V287.7H278.4V280.8H278.9V285.3H279.4V288.3H279.9V281.5H280.4V270.9H280.9V266.3H281.4V276.8H281.9V287.7H282.4V280.5H282.9V277.6H283.4V276.6H283.9V292.7H284.4V287.3H284.9V290.3H285.4V286.1H285.9V270.9H286.4V274.6H286.9V276.7H287.4V269.1H287.9V288.9H288.4V282.6H288.9V243.6H289.4V231.7H289.9V242.5H290.4V271.7H290.9V287.1H291.4V287.7H291.9V283.2H292.4V269.5H292.9V267.6H293.4V247.1H293.9V250.7H294.4V283.0H294.9V280.4H295.4V270.1H295.9V255.6H296.4V276.4H296.9V258.8H297.4V277.4H297.9V286.9H298.4V293.6H298.9V284.8H299.4V290.5H299.9V262.5H300.4V264.9H300.9V273.2H301.4V284.8H301.9V230.4H302.4V265.4H302.9V272.5H303.4V282.1H303.9V257.0H304.4V264.7H304.9V280.1H305.4V283.8H305.9V282.1H306.4V268.6H306.9V271.3H307.4V259.5H307.9V276.9H308.4V268.4H308.9V260.3H309.4V282.0H309.9V269.6H310.4V263.9H310.9V275.9H311.4V280.1H311.9V275.0H312.4V284.6H312.9V257.6H313.4V264.4H313.9V274.0H314.4V270.7H314.9V221.0H315.4V217.9H315.9V264.4H316.4V264.8H316.9V286.2H317.4V287.3H317.9V257.4H318.4V244.2H318.9V257.9H319.4V260.2H319.9V272.9H320.4V264.0H320.9V226.6H321.4V262.8H321.9V280.6H322.4V266.8H322.9V266.1H323.4V244.0H323.9V222.2H324.4V221.5H324.9V269.9H325.4V273.7H325.9V285.6H326.4V277.7H326.9V267.1H327.4V264.4H327.9V259.9H328.4V277.4H328.9V242.0H329.4V265.6H329.9V274.4H330.4V276.5H330.9V277.2H331.4V269.1H331.9V261.1H332.4V259.8H332.9V230.9H333.4V255.0H333.9V252.7H334.4V250.4H334.9V261.1H335.4V266.8H335.9V270.7H336.4V272.2H336.9V242.8H337.4V272.1H337.9V270.6H338.4V271.5H338.9V252.4H339.4V277.1H339.9V262.3H340.4V238.0H340.9V217.5H341.4V261.2H341.9V253.7H342.4V268.7H342.9V249.9H343.4V232.4H343.9V230.4H344.4V235.5H344.9V255.0H345.4V248.9H345.9V248.9H346.4V243.5H346.9V239.8H347.4V241.7H347.9V254.3H348.4V241.7H348.9V231.0H349.4V237.9H349.9V239.6H350.4V254.1H350.9V257.2H351.4V242.4H351.9V245.5H352.4V258.4H352.9V240.6H353.4V268.0H353.9V268.6H354.4V221.5H354.9V264.6H355.4V267.5H355.9V240.3H356.4V231.3H356.9V255.0H357.4V255.2H357.9V254.4H358.4V229.4H358.9V217.8H359.4V231.1H359.9V266.0H360.4V266.9H360.9V258.1H361.4V247.9H361.9V229.2H362.4V225.3H362.9V244.8H363.4V218.2H363.9V252.3H364.4V237.2H364.9V232.2H365.4V219.5H365.9V222.4H366.4V249.4H366.9V225.8H367.4V254.5H367.9V257.8H368.4V235.7H368.9V310.0Z"/>
<path fill="#00ffff" d="M104.15,310.0V290.2h0.70V310.0ZM116.15,310.0V293.0h0.70V310.0ZM119.15,310.0V293.0h0.70V310.0ZM145.15,310.0V280.0h0.70V310.0ZM160.15,310.0V291.0h0.70V310.0ZM154.15,310.0V299.0h0.70V310.0ZM167.15,310.0V294.5h0.70V310.0ZM171.15,310.0V261.8h0.70V310.0ZM173.15,310.0V289.5h0.70V310.0ZM176.15,310.0V289.5h0.70V310.0ZM179.15,310.0V292.0h0.70V310.0ZM185.15,310.0V259.3h0.70V310.0ZM189.15,310.0V271.6h0.70V310.0ZM196.15,310.0V286.8h0.70V310.0ZM203.15,310.0V251.0h0.70V310.0ZM205.15,310.0V201.0h0.70V310.0ZM210.15,310.0V212.0h0.70V310.0ZM213.15,310.0V201.0h0.70V310.0ZM216.15,310.0V228.0h0.70V310.0ZM219.15,310.0V247.0h0.70V310.0ZM227.15,310.0V288.0h0.70V310.0ZM229.15,310.0V287.0h0.70V310.0ZM231.15,310.0V290.0h0.70V310.0ZM237.15,310.0V277.4h0.70V310.0ZM244.12,310.0V201.0h0.77V310.0ZM250.15,310.0V275.0h0.70V310.0ZM272.00,310.0V201.0h1.36V310.0ZM280.15,310.0V244.5h0.70V310.0ZM291.15,310.0V201.0h0.70V310.0ZM293.15,310.0V203.8h0.70V310.0ZM312.07,310.0V201.0h0.85V310.0ZM318.15,310.0V201.0h0.70V310.0ZM328.07,310.0V201.0h0.85V310.0ZM334.15,310.0V201.0h0.70V310.0ZM340.15,310.0V201.0h0.70V310.0ZM344.00,310.0V201.0h1.19V310.0ZM347.15,310.0V206.7h0.70V310.0ZM350.15,310.0V203.8h0.70V310.0ZM354.15,310.0V201.0h0.70V310.0ZM357.15,310.0V206.7h0.70V310.0ZM362.15,310.0V201.0h0.70V310.0ZM367.15,310.0V201.0h0.70V310.0Z"/>
<path fill="#ff8000" d="M35.9,310.0V308.1H36.4V308.1H36.9V308.2H37.4V308.2H37.9V308.1H38.4V308.1H38.9V308.1H39.4V308.1H39.9V308.2H40.4V308.1H40.9V308.2H41.4V308.0H41.9V307.8H42.4V307.4H42.9V308.0H43.4V308.1H43.9V307.6H44.4V307.7H44.9V308.1H45.4V307.8H45.9V307.9H46.4V307.9H46.9V308.1H47.4V308.0H47.9V308.1H48.4V306.9H48.9V307.3H49.4V307.9H49.9V308.1H50.4V307.7H50.9V307.9H51.4V308.2H51.9V308.0H52.4V308.1H52.9V308.0H53.4V308.0H53.9V308.0H54.4V308.0H54.9V308.1H55.4V308.0H55.9V307.9H56.4V308.0H56.9V308.1H57.4V307.9H57.9V308.1H58.4V308.0H58.9V307.1H59.4V307.7H59.9V307.8H60.4V308.0H60.9V308.0H61.4V307.9H61.9V307.9H62.4V308.1H62.9V308.1H63.4V308.1H63.9V308.1H64.4V307.9H64.9V307.8H65.4V308.0H65.9V308.0H66.4V307.9H66.9V307.7H67.4V308.1H67.9V307.9H68.4V308.1H68.9V308.1H69.4V307.8H69.9V307.6H70.4V308.1H70.9V308.0H71.4V307.8H71.9V307.9H72.4V308.1H72.9V308.1H73.4V307.9H73.9V307.3H74.4V307.8H74.9V308.0H75.4V308.0H75.9V308.1H76.4V308.1H76.9V308.0H77.4V307.7H77.9V308.0H78.4V307.7H78.9V307.9H79.4V307.9H79.9V307.6H80.4V307.2H80.9V307.3H81.4V307.9H81.9V308.0H82.4V307.9H82.9V306.9H83.4V307.8H83.9V308.1H84.4V308.0H84.9V307.9H85.4V307.5H85.9V307.8H86.4V307.2H86.9V308.0H87.4V307.8H87.9V307.9H88.4V307.8H88.9V307.6H89.4V307.9H89.9V307.9H90.4V307.3H90.9V307.8H91.4V307.5H91.9V307.9H92.4V307.0H92.9V307.6H93.4V307.2H93.9V307.7H94.4V307.7H94.9V307.8H95.4V307.7H95.9V307.2H96.4V307.8H96.9V307.3H97.4V307.8H97.9V307.8H98.4V307.8H98.9V307.9H99.4V307.8H99.9V307.3H100.4V307.6H100.9V307.9H101.4V307.5H101.9V307.4H102.4V307.7H102.9V307.7H103.4V307.6H103.9V307.6H104.4V307.6H104.9V307.5H105.4V307.5H105.9V306.7H106.4V307.4H106.9V307.8H107.4V307.1H107.9V307.0H108.4V307.4H108.9V307.6H109.4V307.6H109.9V306.9H110.4V307.7H110.9V307.7H111.4V307.8H111.9V307.7H112.4V306.7H112.9V307.7H113.4V307.6H113.9V307.2H114.4V307.5H114.9V307.2H115.4V307.4H115.9V307.6H116.4V307.2H116.9V307.7H117.4V307.7H117.9V307.7H118.4V307.5H118.9V307.1H119.4V306.9H119.9V307.2H120.4V307.5H120.9V307.1H121.4V307.6H121.9V307.3H122.4V307.3H122.9V307.5H123.4V307.3H123.9V307.4H124.4V307.4H124.9V305.7H125.4V306.1H125.9V306.7H126.4V307.4H126.9V307.3H127.4V307.2H127.9V307.1H128.4V306.9H128.9V307.2H129.4V307.0H129.9V307.3H130.4V307.6H130.9V307.4H131.4V307.0H131.9V307.1H132.4V307.1H132.9V305.4H133.4V306.1H133.9V307.1H134.4V306.7H134.9V306.8H135.4V307.0H135.9V307.2H136.4V306.7H136.9V306.9H137.4V306.6H137.9V306.5H138.4V307.2H138.9V307.1H139.4V307.0H139.9V306.0H140.4V306.3H140.9V307.0H141.4V307.1H141.9V307.0H142.4V307.0H142.9V305.4H143.4V307.1H143.9V307.0H144.4V306.1H144.9V306.5H145.4V307.1H145.9V307.2H146.4V306.9H146.9V306.5H147.4V306.7H147.9V307.0H148.4V306.8H148.9V306.2H149.4V306.4H149.9V307.2H150.4V307.1H150.9V307.1H151.4V306.9H151.9V306.9H152.4V306.8H152.9V306.5H153.4V306.3H153.9V306.3H154.4V304.4H154.9V306.7H155.4V306.8H155.9V306.6H156.4V306.5H156.9V306.8H157.4V306.0H157.9V306.3H158.4V306.2H158.9V306.0H159.4V306.4H159.9V306.4H160.4V305.6H160.9V305.9H161.4V306.1H161.9V306.2H162.4V306.4H162.9V306.6H163.4V306.5H163.9V306.0H164.4V306.7H164.9V306.3H165.4V302.2H165.9V305.8H166.4V306.4H166.9V306.0H167.4V305.4H167.9V305.8H168.4V305.7H168.9V306.2H169.4V303.7H169.9V303.4H170.4V303.4H170.9V306.5H171.4V306.3H171.9V305.0H172.4V305.5H172.9V305.7H173.4V305.5H173.9V306.3H174.4V305.6H174.9V306.3H175.4V306.1H175.9V306.3H176.4V305.8H176.9V305.5H177.4V306.0H177.9V305.2H178.4V305.8H178.9V306.2H179.4V306.3H179.9V305.2H180.4V305.6H180.9V305.5H181.4V306.0H181.9V306.1H182.4V305.4H182.9V305.5H183.4V302.9H183.9V305.4H184.4V306.0H184.9V304.1H185.4V303.6H185.9V303.9H186.4V302.0H186.9V305.5H187.4V304.6H187.9V304.4H188.4V305.3H188.9V304.7H189.4V305.2H189.9V304.3H190.4V303.5H190.9V304.5H191.4V304.1H191.9V304.5H192.4V304.8H192.9V304.0H193.4V304.0H193.9V302.4H194.4V304.4H194.9V303.8H195.4V303.9H195.9V305.3H196.4V304.5H196.9V304.8H197.4V304.0H197.9V305.1H198.4V305.0H198.9V303.5H199.4V303.1H199.9V304.5H200.4V304.2H200.9V303.4H201.4V303.4H201.9V301.5H202.4V300.2H202.9V302.9H203.4V304.5H203.9V303.4H204.4V302.4H204.9V303.4H205.4V301.7H205.9V302.5H206.4V302.9H206.9V303.8H207.4V304.4H207.9V304.7H208.4V303.0H208.9V301.5H209.4V300.8H209.9V302.9H210.4V304.1H210.9V304.7H211.4V303.7H211.9V304.2H212.4V305.0H212.9V304.6H213.4V304.5H213.9V297.7H214.4V299.6H214.9V301.9H215.4V303.4H215.9V303.5H216.4V304.2H216.9V303.3H217.4V303.7H217.9V299.9H218.4V300.4H218.9V304.5H219.4V300.9H219.9V301.0H220.4V300.8H220.9V303.8H221.4V303.3H221.9V303.6H222.4V303.6H222.9V296.9H223.4V303.2H223.9V303.9H224.4V302.0H224.9V301.7H225.4V299.8H225.9V301.3H226.4V298.0H226.9V294.4H227.4V303.0H227.9V302.9H228.4V304.3H228.9V303.6H229.4V298.5H229.9V297.9H230.4V301.2H230.9V298.4H231.4V298.5H231.9V303.0H232.4V301.9H232.9V302.2H233.4V304.5H233.9V302.5H234.4V301.7H234.9V302.5H235.4V303.9H235.9V303.8H236.4V302.8H236.9V302.5H237.4V302.3H237.9V303.6H238.4V300.1H238.9V298.4H239.4V303.6H239.9V303.8H240.4V301.6H240.9V304.2H241.4V300.2H241.9V299.0H242.4V303.4H242.9V302.6H243.4V303.0H243.9V303.9H244.4V303.5H244.9V301.5H245.4V292.7H245.9V301.5H246.4V301.0H246.9V301.1H247.4V303.8H247.9V301.5H248.4V303.6H248.9V302.4H249.4V299.1H249.9V301.7H250.4V300.3H250.9V301.7H251.4V303.6H251.9V301.5H252.4V302.9H252.9V299.9H253.4V300.8H253.9V300.3H254.4V289.4H254.9V294.9H255.4V294.4H255.9V300.7H256.4V303.0H256.9V301.4H257.4V301.2H257.9V303.0H258.4V296.7H258.9V299.6H259.4V299.2H259.9V301.4H260.4V297.3H260.9V299.0H261.4V302.7H261.9V301.7H262.4V302.6H262.9V293.2H263.4V301.7H263.9V303.0H264.4V301.9H264.9V300.8H265.4V299.4H265.9V302.3H266.4V300.3H266.9V301.0H267.4V295.0H267.9V300.6H268.4V292.5H268.9V301.5H269.4V297.3H269.9V299.9H270.4V292.6H270.9V293.2H271.4V301.9H271.9V302.0H272.4V301.2H272.9V299.0H273.4V297.6H273.9V298.2H274.4V301.5H274.9V299.7H275.4V292.3H275.9V300.3H276.4V299.9H276.9V298.4H277.4V297.7H277.9V299.5H278.4V297.5H278.9V293.4H279.4V297.2H279.9V298.4H280.4V274.1H280.9V282.7H281.4V300.0H281.9V301.2H282.4V294.8H282.9V299.3H283.4V297.9H283.9V300.8H284.4V301.9H284.9V300.9H285.4V300.9H285.9V296.8H286.4V300.3H286.9V288.3H287.4V291.6H287.9V291.7H288.4V298.1H288.9V290.5H289.4V275.1H289.9V287.0H290.4V291.1H290.9V300.0H291.4V298.0H291.9V301.2H292.4V300.2H292.9V295.8H293.4V280.5H293.9V280.7H294.4V298.9H294.9V289.8H295.4V294.7H295.9V299.1H296.4V298.1H296.9V298.0H297.4V291.3H297.9V300.2H298.4V302.6H298.9V300.9H299.4V303.2H299.9V299.2H300.4V288.0H300.9V295.6H301.4V292.4H301.9V288.5H302.4V287.0H302.9V294.8H303.4V296.0H303.9V295.7H304.4V297.1H304.9V291.8H305.4V295.7H305.9V299.2H306.4V299.5H306.9V298.3H307.4V298.3H307.9V290.8H308.4V290.2H308.9V289.9H309.4V295.0H309.9V285.9H310.4V295.8H310.9V298.2H311.4V296.5H311.9V291.2H312.4V296.4H312.9V273.8H313.4V289.3H313.9V298.4H314.4V287.5H314.9V287.6H315.4V295.4H315.9V293.2H316.4V298.8H316.9V297.3H317.4V298.5H317.9V291.3H318.4V280.1H318.9V300.8H319.4V287.4H319.9V300.0H320.4V295.8H320.9V295.9H321.4V291.9H321.9V288.4H322.4V300.9H322.9V295.7H323.4V291.5H323.9V292.1H324.4V284.9H324.9V295.8H325.4V299.1H325.9V299.6H326.4V277.5H326.9V294.0H327.4V298.9H327.9V297.0H328.4V297.5H328.9V296.1H329.4V290.4H329.9V298.7H330.4V297.2H330.9V296.7H331.4V299.7H331.9V297.6H332.4V293.4H332.9V289.8H333.4V289.2H333.9V293.5H334.4V284.2H334.9V283.2H335.4V279.5H335.9V297.3H336.4V294.4H336.9V287.8H337.4V293.5H337.9V292.6H338.4V290.5H338.9V296.9H339.4V296.5H339.9V286.9H340.4V263.5H340.9V288.6H341.4V291.8H341.9V275.5H342.4V294.3H342.9V294.2H343.4V281.4H343.9V273.6H344.4V283.1H344.9V290.9H345.4V285.3H345.9V287.2H346.4V292.2H346.9V285.5H347.4V289.4H347.9V292.3H348.4V292.1H348.9V294.9H349.4V282.7H349.9V258.2H350.4V266.6H350.9V285.8H351.4V297.0H351.9V274.6H352.4V290.4H352.9V293.6H353.4V291.9H353.9V296.0H354.4V280.6H354.9V290.5H355.4V292.5H355.9V290.8H356.4V276.9H356.9V289.0H357.4V283.9H357.9V276.8H358.4V285.9H358.9V281.8H359.4V289.1H359.9V295.7H360.4V294.2H360.9V285.5H361.4V288.1H361.9V290.8H362.4V286.1H362.9V279.2H363.4V288.6H363.9V288.5H364.4V278.7H364.9V264.1H365.4V280.2H365.9V289.1H366.4V284.1H366.9V286.6H367.4V285.8H367.9V291.4H368.4V285.2H368.9V310.0Z"/>
<path fill="#ff8000" d="M104.15,310.0V300.4h0.70V310.0ZM116.15,310.0V303.0h0.70V310.0ZM119.15,310.0V303.0h0.70V310.0ZM145.15,310.0V298.0h0.70V310.0ZM158.15,310.0V297.5h0.70V310.0ZM171.15,310.0V296.0h0.70V310.0ZM185.15,310.0V300.0h0.70V310.0ZM205.15,310.0V279.5h0.70V310.0ZM210.15,310.0V290.0h0.70V310.0ZM213.15,310.0V230.7h0.70V310.0ZM222.12,310.0V201.0h0.77V310.0ZM244.12,310.0V262.0h0.77V310.0ZM274.12,310.0V201.0h0.77V310.0ZM282.00,310.0V201.0h1.10V310.0ZM312.07,310.0V204.5h0.85V310.0ZM328.07,310.0V209.0h0.85V310.0ZM344.00,310.0V201.0h1.19V310.0ZM365.07,310.0V201.0h0.85V310.0Z"/>
<path fill="#000000" d="M35.9,310.0V308.9H36.4V308.9H36.9V308.9H37.4V308.7H37.9V308.9H38.4V309.0H38.9V308.9H39.4V308.8H39.9V308.9H40.4V308.9H40.9V308.7H41.4V308.6H41.9V308.8H42.4V308.4H42.9V308.7H43.4V308.8H43.9V308.7H44.4V308.7H44.9V308.7H45.4V308.3H45.9V308.6H46.4V308.7H46.9V308.6H47.4V308.9H47.9V308.8H48.4V308.6H48.9V308.3H49.4V308.7H49.9V308.7H50.4V308.6H50.9V308.8H51.4V308.9H51.9V308.8H52.4V308.8H52.9V308.4H53.4V308.7H53.9V308.8H54.4V308.7H54.9V308.8H55.4V308.9H55.9V308.8H56.4V308.5H56.9V308.8H57.4V308.9H57.9V308.9H58.4V308.3H58.9V307.9H59.4V308.7H59.9V308.6H60.4V308.7H60.9V308.2H61.4V308.6H61.9V308.9H62.4V308.9H62.9V308.9H63.4V308.9H63.9V308.7H64.4V308.7H64.9V308.4H65.4V308.7H65.9V308.6H66.4V308.8H66.9V308.5H67.4V308.7H67.9V308.8H68.4V308.7H68.9V308.7H69.4V308.9H69.9V308.6H70.4V308.8H70.9V308.9H71.4V308.8H71.9V308.4H72.4V308.8H72.9V308.9H73.4V308.9H73.9V308.6H74.4V308.7H74.9V308.9H75.4V308.9H75.9V309.0H76.4V308.6H76.9V308.6H77.4V308.7H77.9V308.6H78.4V308.8H78.9V308.8H79.4V308.8H79.9V308.7H80.4V308.0H80.9V308.7H81.4V308.8H81.9V308.8H82.4V308.8H82.9V308.5H83.4V308.8H83.9V309.0H84.4V308.8H84.9V308.8H85.4V308.1H85.9V308.9H86.4V308.9H86.9V308.7H87.4V308.8H87.9V308.9H88.4V308.8H88.9V308.3H89.4V308.9H89.9V308.9H90.4V308.7H90.9V308.5H91.4V308.7H91.9V308.9H92.4V308.5H92.9V308.5H93.4V308.8H93.9V308.8H94.4V308.9H94.9V308.8H95.4V308.4H95.9V308.7H96.4V308.8H96.9V308.7H97.4V308.5H97.9V308.8H98.4V308.9H98.9V308.9H99.4V308.7H99.9V308.8H100.4V308.8H100.9V308.9H101.4V308.7H101.9V308.9H102.4V308.9H102.9V308.8H103.4V308.8H103.9V308.4H104.4V308.8H104.9V308.7H105.4V308.8H105.9V308.7H106.4V308.5H106.9V308.5H107.4V308.3H107.9V307.7H108.4V308.7H108.9V308.8H109.4V308.4H109.9V308.5H110.4V308.6H110.9V308.8H111.4V308.9H111.9V308.6H112.4V308.4H112.9V308.6H113.4V308.7H113.9V308.9H114.4V308.8H114.9V308.4H115.4V308.8H115.9V308.8H116.4V308.8H116.9V308.9H117.4V308.8H117.9V308.9H118.4V308.7H118.9V308.5H119.4V308.7H119.9V308.6H120.4V308.5H120.9V308.5H121.4V308.6H121.9V308.8H122.4V308.7H122.9V308.8H123.4V308.8H123.9V308.7H124.4V308.2H124.9V308.5H125.4V308.5H125.9V308.6H126.4V308.8H126.9V308.9H127.4V308.8H127.9V308.7H128.4V308.8H128.9V308.8H129.4V308.6H129.9V308.7H130.4V308.8H130.9V308.6H131.4V308.5H131.9V308.8H132.4V308.5H132.9V307.5H133.4V308.2H133.9V308.6H134.4V308.6H134.9V308.8H135.4V308.8H135.9V308.6H136.4V308.7H136.9V308.5H137.4V308.3H137.9V308.4H138.4V308.8H138.9V308.8H139.4V308.7H139.9V308.5H140.4V308.3H140.9V308.7H141.4V308.8H141.9V308.7H142.4V308.4H142.9V308.6H143.4V308.7H143.9V308.7H144.4V308.5H144.9V308.5H145.4V308.8H145.9V308.8H146.4V308.7H146.9V308.6H147.4V308.8H147.9V308.7H148.4V308.8H148.9V308.3H149.4V308.6H149.9V308.7H150.4V308.6H150.9V308.6H151.4V308.7H151.9V308.5H152.4V308.8H152.9V308.6H153.4V308.1H153.9V308.7H154.4V308.0H154.9V308.5H155.4V308.7H155.9V308.8H156.4V308.6H156.9V308.5H157.4V308.5H157.9V308.5H158.4V308.6H158.9V308.3H159.4V308.7H159.9V308.6H160.4V308.5H160.9V308.4H161.4V308.3H161.9V308.4H162.4V308.7H162.9V308.7H163.4V308.6H163.9V308.3H164.4V308.6H164.9V308.4H165.4V308.3H165.9V307.8H166.4V308.6H166.9V308.4H167.4V308.2H167.9V308.5H168.4V308.5H168.9V308.5H169.4V308.1H169.9V307.3H170.4V308.3H170.9V308.6H171.4V308.5H171.9V308.5H172.4V308.3H172.9V308.6H173.4V308.5H173.9V308.6H174.4V308.6H174.9V308.6H175.4V308.5H175.9V308.7H176.4V308.6H176.9V308.6H177.4V308.5H177.9V308.6H178.4V308.6H178.9V308.5H179.4V308.6H179.9V308.5H180.4V308.5H180.9V308.4H181.4V308.5H181.9V308.5H182.4V308.5H182.9V308.3H183.4V308.2H183.9V308.3H184.4V308.3H184.9V308.2H185.4V307.7H185.9V307.8H186.4V307.3H186.9V308.4H187.4V308.5H187.9V308.2H188.4V308.3H188.9V308.3H189.4V308.4H189.9V308.5H190.4V308.2H190.9V308.4H191.4V308.2H191.9V308.3H192.4V308.1H192.9V308.0H193.4V307.9H193.9V308.0H194.4V308.2H194.9V308.2H195.4V308.2H195.9V308.5H196.4V308.1H196.9V308.2H197.4V308.2H197.9V308.4H198.4V308.4H198.9V308.4H199.4V308.1H199.9V308.2H200.4V308.2H200.9V308.0H201.4V307.8H201.9V307.9H202.4V307.8H202.9V307.6H203.4V308.3H203.9V307.6H204.4V307.6H204.9V308.2H205.4V307.5H205.9V307.9H206.4V307.7H206.9V308.1H207.4V308.3H207.9V308.1H208.4V307.5H208.9V307.3H209.4V307.3H209.9V308.0H210.4V308.3H210.9V308.3H211.4V308.3H211.9V308.3H212.4V308.2H212.9V308.5H213.4V308.2H213.9V308.2H214.4V307.4H214.9V307.7H215.4V308.4H215.9V308.3H216.4V308.3H216.9V308.3H217.4V308.2H217.9V307.9H218.4V307.3H218.9V308.3H219.4V308.2H219.9V307.4H220.4V307.8H220.9V308.1H221.4V308.1H221.9V308.2H222.4V308.0H222.9V307.9H223.4V308.3H223.9V308.1H224.4V307.9H224.9V308.2H225.4V308.0H225.9V307.7H226.4V307.8H226.9V307.4H227.4V307.5H227.9V307.9H228.4V308.4H228.9V308.2H229.4V307.6H229.9V307.1H230.4V306.4H230.9V306.8H231.4V307.5H231.9V307.6H232.4V307.9H232.9V307.7H233.4V307.9H233.9V308.1H234.4V307.5H234.9V308.0H235.4V308.2H235.9V308.0H236.4V307.9H236.9V308.0H237.4V308.0H237.9V308.1H238.4V308.1H238.9V308.0H239.4V308.1H239.9V308.1H240.4V308.3H240.9V308.4H241.4V308.2H241.9V308.2H242.4V308.2H242.9V307.9H243.4V308.0H243.9V308.2H244.4V308.1H244.9V307.6H245.4V306.6H245.9V308.0H246.4V307.8H246.9V307.8H247.4V308.3H247.9V308.4H248.4V308.2H248.9V308.2H249.4V308.2H249.9V307.7H250.4V308.1H250.9V308.4H251.4V308.4H251.9V308.1H252.4V308.3H252.9V308.1H253.4V308.3H253.9V308.4H254.4V308.0H254.9V307.0H255.4V308.2H255.9V308.2H256.4V308.1H256.9V308.3H257.4V308.1H257.9V308.1H258.4V308.0H258.9V307.5H259.4V308.0H259.9V308.2H260.4V307.7H260.9V308.2H261.4V308.5H261.9V308.5H262.4V307.7H262.9V308.1H263.4V308.2H263.9V308.4H264.4V308.2H264.9V308.1H265.4V308.3H265.9V308.4H266.4V308.4H266.9V308.3H267.4V308.3H267.9V308.1H268.4V308.0H268.9V308.0H269.4V308.1H269.9V308.0H270.4V308.1H270.9V307.9H271.4V308.4H271.9V308.4H272.4V307.9H272.9V307.6H273.4V307.5H273.9V307.9H274.4V308.4H274.9V308.4H275.4V308.0H275.9V307.8H276.4V307.8H276.9V308.3H277.4V308.1H277.9V308.2H278.4V308.3H278.9V308.3H279.4V308.3H279.9V308.1H280.4V307.6H280.9V308.1H281.4V308.3H281.9V308.6H282.4V308.1H282.9V308.3H283.4V308.3H283.9V308.5H284.4V308.5H284.9V308.5H285.4V308.4H285.9V307.5H286.4V308.0H286.9V308.3H287.4V307.8H287.9V308.2H288.4V308.3H288.9V308.1H289.4V307.1H289.9V307.8H290.4V308.1H290.9V308.3H291.4V308.4H291.9V308.4H292.4V308.5H292.9V307.8H293.4V307.6H293.9V307.8H294.4V308.4H294.9V308.2H295.4V308.5H295.9V308.4H296.4V308.3H296.9V308.5H297.4V308.3H297.9V308.6H298.4V308.6H298.9V308.6H299.4V308.6H299.9V308.5H300.4V308.2H300.9V307.9H301.4V308.2H301.9V308.2H302.4V308.1H302.9V308.3H303.4V308.1H303.9V308.3H304.4V308.4H304.9V308.1H305.4V308.5H305.9V308.6H306.4V308.4H306.9V308.3H307.4V308.2H307.9V308.3H308.4V307.8H308.9V308.5H309.4V308.0H309.9V307.8H310.4V308.0H310.9V308.5H311.4V308.6H311.9V308.4H312.4V308.4H312.9V308.3H313.4V308.4H313.9V308.4H314.4V307.9H314.9V307.6H315.4V308.3H315.9V307.4H316.4V308.5H316.9V308.6H317.4V308.7H317.9V308.1H318.4V307.8H318.9V308.1H319.4V308.1H319.9V308.4H320.4V308.5H320.9V308.5H321.4V308.1H321.9V308.3H322.4V308.6H322.9V308.5H323.4V308.2H323.9V306.7H324.4V308.1H324.9V308.5H325.4V308.6H325.9V308.7H326.4V308.6H326.9V308.3H327.4V308.5H327.9V308.4H328.4V308.5H328.9V308.4H329.4V308.2H329.9V308.5H330.4V308.7H330.9V308.5H331.4V308.6H331.9V308.7H332.4V308.2H332.9V308.6H333.4V308.3H333.9V308.4H334.4V307.8H334.9V308.1H335.4V308.6H335.9V308.5H336.4V308.6H336.9V308.5H337.4V308.4H337.9V308.4H338.4V308.4H338.9V308.7H339.4V308.8H339.9V308.6H340.4V308.0H340.9V308.0H341.4V308.6H341.9V308.6H342.4V308.3H342.9V308.7H343.4V308.5H343.9V307.9H344.4V308.6H344.9V308.5H345.4V308.5H345.9V308.7H346.4V308.7H346.9V308.4H347.4V308.3H347.9V308.7H348.4V308.8H348.9V308.6H349.4V308.7H349.9V308.7H350.4V308.5H350.9V308.8H351.4V308.8H351.9V308.7H352.4V308.5H352.9V308.8H353.4V308.9H353.9V308.9H354.4V308.6H354.9V308.7H355.4V308.7H355.9V308.6H356.4V308.9H356.9V308.8H357.4V308.8H357.9V308.7H358.4V308.7H358.9V308.2H359.4V308.7H359.9V309.0H360.4V308.9H360.9V308.8H361.4V308.9H361.9V308.6H362.4V308.8H362.9V308.9H363.4V308.8H363.9V308.8H364.4V309.0H364.9V308.5H365.4V308.5H365.9V308.5H366.4V308.8H366.9V308.8H367.4V308.8H367.9V308.9H368.4V309.0H368.9V310.0Z"/>
<path fill="#000000" d="M145.22,310.0V306.0h0.56V310.0ZM158.22,310.0V304.0h0.56V310.0ZM222.19,310.0V302.0h0.61V310.0ZM244.19,310.0V297.0h0.61V310.0ZM274.19,310.0V288.0h0.61V310.0ZM282.11,310.0V283.0h0.88V310.0ZM312.16,310.0V300.0h0.68V310.0ZM344.12,310.0V292.0h0.95V310.0ZM365.16,310.0V296.0h0.68V310.0Z"/>
</g>
<line x1="34.90" y1="197.80" x2="372.20" y2="197.80" stroke="#7c7c7c" stroke-width="1.4"/><line x1="371.70" y1="197.80" x2="371.70" y2="310.00" stroke="#6a6a6a" stroke-width="1"/><line x1="35.40" y1="197.80" x2="35.40" y2="310.00" stroke="#3a3a3a" stroke-width="1"/><line x1="34.90" y1="309.50" x2="372.20" y2="309.50" stroke="#2a2a2a" stroke-width="1"/><path d="M34.4,199.4l2.4,-1.1M34.4,200.8l2.4,-1.1" stroke="#444" stroke-width="0.6" fill="none"/><path d="M370.7,199.4l2.4,-1.1M370.7,200.8l2.4,-1.1" stroke="#444" stroke-width="0.6" fill="none"/>
<path fill="#00ffff" d="M213.15,197.05v1.5h0.70v-1.5Z"/><path fill="#00ffff" d="M272.00,197.05v1.5h1.36v-1.5Z"/><path fill="#00ffff" d="M312.07,197.05v1.5h0.85v-1.5Z"/><path fill="#00ffff" d="M344.00,197.05v1.5h1.19v-1.5Z"/><path fill="#ff8000" d="M282.00,197.05v1.5h1.10v-1.5Z"/><path fill="#ff8000" d="M344.00,197.05v1.5h1.19v-1.5Z"/>
<g stroke="#4a4a4a" stroke-width="0.8"><line x1="95.7" y1="310.0" x2="95.7" y2="312.2"/><line x1="155.7" y1="310.0" x2="155.7" y2="312.2"/><line x1="215.7" y1="310.0" x2="215.7" y2="312.2"/><line x1="275.7" y1="310.0" x2="275.7" y2="312.2"/><line x1="335.7" y1="310.0" x2="335.7" y2="312.2"/></g><g font-size="7.4" text-anchor="middle" fill="#1a1a1a"><text x="95.7" y="321.2">500</text><text x="155.7" y="321.2">1000</text><text x="215.7" y="321.2">1500</text><text x="275.7" y="321.2">2000</text><text x="335.7" y="321.2">2500</text></g>
<rect x="46.4" y="206.3" width="17.6" height="5.8" fill="#000"/><text x="66.4" y="212.0" font-size="7.8" fill="#1a1a1a">control</text><rect x="46.4" y="216.3" width="17.6" height="5.8" fill="#ff8000"/><text x="66.4" y="222.0" font-size="7.8" fill="#1a1a1a">24h</text><rect x="46.4" y="226.3" width="17.6" height="5.8" fill="#00ffff"/><text x="66.4" y="232.0" font-size="7.8" fill="#1a1a1a">48h</text>
<text x="3.6" y="182.8" font-size="10.9" font-weight="bold" fill="#000">B</text>
<text y="182.6" font-size="10.9" font-weight="bold" fill="#000"><tspan x="44">37</tspan><tspan x="58.6" font-size="10" font-family="'Liberation Sans', 'Noto Sans CJK SC', sans-serif">℃</tspan><tspan x="71.5">incubation</tspan></text>
<text transform="translate(28.1,261) rotate(-90)" text-anchor="middle" font-size="10.8" fill="#1a1a1a">MPRT-seq reactivities</text>
<text x="173" y="338.0" font-size="10.2" textLength="64.3" lengthAdjust="spacingAndGlyphs" fill="#1a1a1a">mRNA length</text>
<path d="M415.30,27.40H547.40V131.40" fill="none" stroke="#808080" stroke-width="1"/><path d="M415.30,26.90V131.40H547.90" fill="none" stroke="#3a3a3a" stroke-width="1.2"/>
<rect x="425.2" y="122.0" width="13.2" height="9.4" fill="#000" stroke="#222" stroke-width="0.4"/><line x1="431.8" y1="131.4" x2="431.8" y2="133.4" stroke="#4a4a4a" stroke-width="0.7"/><text x="431.8" y="142" text-anchor="middle" font-size="6.9" fill="#1a1a1a">Control</text><rect x="458.2" y="106.2" width="13.2" height="25.2" fill="#ff0000" stroke="#222" stroke-width="0.4"/><line x1="464.8" y1="131.4" x2="464.8" y2="133.4" stroke="#4a4a4a" stroke-width="0.7"/><text x="464.8" y="142" text-anchor="middle" font-size="6.9" fill="#1a1a1a">5 cycles</text><rect x="491.3" y="77.5" width="13.2" height="54.0" fill="#00ff00" stroke="#222" stroke-width="0.4"/><line x1="497.9" y1="131.4" x2="497.9" y2="133.4" stroke="#4a4a4a" stroke-width="0.7"/><text x="497.9" y="142" text-anchor="middle" font-size="6.9" fill="#1a1a1a">10 cycles</text><rect x="524.3" y="46.3" width="13.2" height="85.1" fill="#0000ff" stroke="#222" stroke-width="0.4"/><line x1="530.9" y1="131.4" x2="530.9" y2="133.4" stroke="#4a4a4a" stroke-width="0.7"/><text x="530.9" y="142" text-anchor="middle" font-size="6.9" fill="#1a1a1a">20 cycles</text>
<line x1="412.7" y1="131.4" x2="415.3" y2="131.4" stroke="#4a4a4a" stroke-width="0.8"/><text x="410.6" y="133.9" text-anchor="end" font-size="6.9" fill="#1a1a1a">0</text><line x1="413.9" y1="118.4" x2="415.3" y2="118.4" stroke="#4a4a4a" stroke-width="0.7"/><line x1="412.7" y1="105.4" x2="415.3" y2="105.4" stroke="#4a4a4a" stroke-width="0.8"/><text x="410.6" y="107.9" text-anchor="end" font-size="6.9" fill="#1a1a1a">2</text><line x1="413.9" y1="92.4" x2="415.3" y2="92.4" stroke="#4a4a4a" stroke-width="0.7"/><line x1="412.7" y1="79.4" x2="415.3" y2="79.4" stroke="#4a4a4a" stroke-width="0.8"/><text x="410.6" y="81.9" text-anchor="end" font-size="6.9" fill="#1a1a1a">4</text><line x1="413.9" y1="66.4" x2="415.3" y2="66.4" stroke="#4a4a4a" stroke-width="0.7"/><line x1="412.7" y1="53.4" x2="415.3" y2="53.4" stroke="#4a4a4a" stroke-width="0.8"/><text x="410.6" y="55.9" text-anchor="end" font-size="6.9" fill="#1a1a1a">6</text><line x1="413.9" y1="40.4" x2="415.3" y2="40.4" stroke="#4a4a4a" stroke-width="0.7"/><line x1="412.7" y1="27.4" x2="415.3" y2="27.4" stroke="#4a4a4a" stroke-width="0.8"/><text x="410.6" y="29.9" text-anchor="end" font-size="6.9" fill="#1a1a1a">8</text>
<text transform="translate(400.3,85.6) rotate(-90)" text-anchor="middle" font-size="9.5" fill="#1a1a1a">MPRT-seq mean reactivity</text>
<text x="481.5" y="155.8" text-anchor="middle" font-size="9.3" fill="#1a1a1a">Freeze-thaw cycles</text>
<path d="M414.10,201.00H546.70V306.10" fill="none" stroke="#808080" stroke-width="1"/><path d="M414.10,200.50V306.10H547.20" fill="none" stroke="#3a3a3a" stroke-width="1.2"/>
<rect x="429.9" y="302.2" width="13.4" height="3.9" fill="#000" stroke="#222" stroke-width="0.4"/><line x1="436.2" y1="306.1" x2="436.2" y2="308.1" stroke="#4a4a4a" stroke-width="0.7"/><text x="436.2" y="316.7" text-anchor="middle" font-size="7.7" fill="#1a1a1a">Control</text><rect x="474.1" y="269.3" width="13.4" height="36.8" fill="#ff8000" stroke="#222" stroke-width="0.4"/><line x1="480.4" y1="306.1" x2="480.4" y2="308.1" stroke="#4a4a4a" stroke-width="0.7"/><text x="480.4" y="316.7" text-anchor="middle" font-size="7.7" fill="#1a1a1a">24 h</text><rect x="518.3" y="220.4" width="13.4" height="85.7" fill="#00ffff" stroke="#222" stroke-width="0.4"/><line x1="524.6" y1="306.1" x2="524.6" y2="308.1" stroke="#4a4a4a" stroke-width="0.7"/><text x="524.6" y="316.7" text-anchor="middle" font-size="7.7" fill="#1a1a1a">48 h</text>
<line x1="411.5" y1="306.1" x2="414.1" y2="306.1" stroke="#4a4a4a" stroke-width="0.8"/><text x="409.6" y="308.6" text-anchor="end" font-size="6.9" fill="#1a1a1a">0</text><line x1="411.5" y1="279.8" x2="414.1" y2="279.8" stroke="#4a4a4a" stroke-width="0.8"/><text x="409.6" y="282.3" text-anchor="end" font-size="6.9" fill="#1a1a1a">5</text><line x1="411.5" y1="253.6" x2="414.1" y2="253.6" stroke="#4a4a4a" stroke-width="0.8"/><text x="409.6" y="256.1" text-anchor="end" font-size="6.9" fill="#1a1a1a">10</text><line x1="411.5" y1="227.3" x2="414.1" y2="227.3" stroke="#4a4a4a" stroke-width="0.8"/><text x="409.6" y="229.8" text-anchor="end" font-size="6.9" fill="#1a1a1a">15</text><line x1="411.5" y1="201.0" x2="414.1" y2="201.0" stroke="#4a4a4a" stroke-width="0.8"/><text x="409.6" y="203.5" text-anchor="end" font-size="6.9" fill="#1a1a1a">20</text>
<text transform="translate(396.6,260.0) rotate(-90)" text-anchor="middle" font-size="9.5" fill="#1a1a1a">MPRT-seq mean reactivity</text>
<text y="331.8" font-size="9.2" fill="#1a1a1a"><tspan x="447.3">37</tspan><tspan x="460.3" font-size="8.8" font-family="'Noto Serif CJK SC', 'Liberation Serif', serif">℃</tspan><tspan x="471.7">incubation</tspan></text>
</svg>
</body>
</html>
